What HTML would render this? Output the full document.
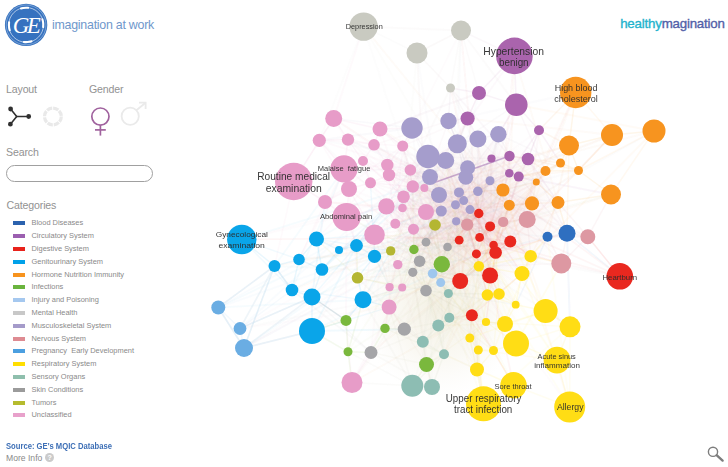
<!DOCTYPE html>
<html><head><meta charset="utf-8"><title>healthymagination</title>
<style>
html,body{margin:0;padding:0;background:#fff;}
body{width:728px;height:467px;overflow:hidden;position:relative;font-family:"Liberation Sans",sans-serif;}
.abs{position:absolute;white-space:nowrap;}
.h{color:#929292;font-size:10.6px;line-height:12px;letter-spacing:-0.15px;}
.lg{position:absolute;left:0;height:12px;line-height:12px;white-space:nowrap;}
.sw{position:absolute;left:12.6px;top:4px;width:12px;height:4px;}
.lt{position:absolute;left:31.5px;top:0;font-size:7.45px;color:#8a8a8a;}
svg text{font-family:"Liberation Sans",sans-serif;fill:#2b2b2b;}
</style></head><body>
<svg class="abs" style="left:0;top:0" width="728" height="467" viewBox="0 0 728 467">
<defs>
<radialGradient id="hz" cx="0.5" cy="0.5" r="0.5"><stop offset="0" stop-color="#e9c3c8" stop-opacity="0.42"/><stop offset="0.55" stop-color="#ecd0cf" stop-opacity="0.22"/><stop offset="1" stop-color="#f0dcd8" stop-opacity="0"/></radialGradient>
<radialGradient id="hz2" cx="0.5" cy="0.5" r="0.5"><stop offset="0" stop-color="#e9e3cc" stop-opacity="0.55"/><stop offset="0.6" stop-color="#eee9d6" stop-opacity="0.28"/><stop offset="1" stop-color="#f3eee6" stop-opacity="0"/></radialGradient>
<filter id="bl" x="-5%" y="-5%" width="110%" height="110%"><feGaussianBlur stdDeviation="0.7"/></filter>
</defs>
<ellipse cx="440" cy="305" rx="80" ry="92" fill="url(#hz2)"/>
<ellipse cx="476" cy="212" rx="92" ry="78" fill="url(#hz)"/>
<g id="edges" stroke-linecap="round" filter="url(#bl)">
<line x1="363.6" y1="26.6" x2="417.0" y2="53.0" stroke="#c9cac1" stroke-opacity="0.055" stroke-width="1.5"/>
<line x1="363.6" y1="26.6" x2="333.7" y2="118.4" stroke="#e79cc8" stroke-opacity="0.055" stroke-width="1.9"/>
<line x1="363.6" y1="26.6" x2="461.0" y2="30.5" stroke="#cebbb8" stroke-opacity="0.055" stroke-width="1.9"/>
<line x1="363.6" y1="26.6" x2="319.3" y2="140.3" stroke="#c9cac1" stroke-opacity="0.034" stroke-width="1.9"/>
<line x1="363.6" y1="26.6" x2="410.4" y2="170.0" stroke="#c9cac1" stroke-opacity="0.034" stroke-width="1.9"/>
<line x1="363.6" y1="26.6" x2="495.6" y2="252.5" stroke="#cebbb8" stroke-opacity="0.034" stroke-width="1.9"/>
<line x1="363.6" y1="26.6" x2="509.3" y2="205.2" stroke="#ec984e" stroke-opacity="0.034" stroke-width="1.9"/>
<line x1="417.0" y1="53.0" x2="450.5" y2="88.0" stroke="#cebbb8" stroke-opacity="0.085" stroke-width="1.5"/>
<line x1="417.0" y1="53.0" x2="461.0" y2="30.5" stroke="#cebbb8" stroke-opacity="0.085" stroke-width="1.5"/>
<line x1="417.0" y1="53.0" x2="403.5" y2="196.8" stroke="#cebbb8" stroke-opacity="0.034" stroke-width="1.9"/>
<line x1="417.0" y1="53.0" x2="424.4" y2="188.0" stroke="#cebbb8" stroke-opacity="0.034" stroke-width="1.9"/>
<line x1="417.0" y1="53.0" x2="439.0" y2="195.0" stroke="#b79ebf" stroke-opacity="0.034" stroke-width="1.9"/>
<line x1="417.0" y1="53.0" x2="426.0" y2="212.0" stroke="#e29dbc" stroke-opacity="0.034" stroke-width="1.9"/>
<line x1="461.0" y1="30.5" x2="450.5" y2="88.0" stroke="#cebbb8" stroke-opacity="0.055" stroke-width="1.5"/>
<line x1="461.0" y1="30.5" x2="514.4" y2="55.9" stroke="#ba79ab" stroke-opacity="0.055" stroke-width="1.5"/>
<line x1="461.0" y1="30.5" x2="389.0" y2="175.0" stroke="#e29dbc" stroke-opacity="0.034" stroke-width="1.9"/>
<line x1="461.0" y1="30.5" x2="457.3" y2="143.7" stroke="#b79ebf" stroke-opacity="0.034" stroke-width="1.9"/>
<line x1="461.0" y1="30.5" x2="479.6" y2="237.4" stroke="#e3524e" stroke-opacity="0.034" stroke-width="1.9"/>
<line x1="461.0" y1="30.5" x2="447.5" y2="247.0" stroke="#cebbb8" stroke-opacity="0.034" stroke-width="1.9"/>
<line x1="450.5" y1="88.0" x2="479.0" y2="93.0" stroke="#ba79ab" stroke-opacity="0.085" stroke-width="1.5"/>
<line x1="450.5" y1="88.0" x2="448.5" y2="121.0" stroke="#b79ebf" stroke-opacity="0.085" stroke-width="1.5"/>
<line x1="450.5" y1="88.0" x2="467.6" y2="118.5" stroke="#cebbb8" stroke-opacity="0.085" stroke-width="1.5"/>
<line x1="450.5" y1="88.0" x2="490.0" y2="180.7" stroke="#cebbb8" stroke-opacity="0.055" stroke-width="1.9"/>
<line x1="450.5" y1="88.0" x2="509.5" y2="156.0" stroke="#ba79ab" stroke-opacity="0.055" stroke-width="1.9"/>
<line x1="450.5" y1="88.0" x2="410.4" y2="170.0" stroke="#cebbb8" stroke-opacity="0.055" stroke-width="1.9"/>
<line x1="450.5" y1="88.0" x2="478.8" y2="213.5" stroke="#e3524e" stroke-opacity="0.034" stroke-width="1.9"/>
<line x1="514.4" y1="55.9" x2="516.3" y2="104.8" stroke="#ba79ab" stroke-opacity="0.085" stroke-width="1.5"/>
<line x1="514.4" y1="55.9" x2="479.0" y2="93.0" stroke="#ba79ab" stroke-opacity="0.085" stroke-width="1.5"/>
<line x1="514.4" y1="55.9" x2="509.3" y2="205.2" stroke="#ec984e" stroke-opacity="0.034" stroke-width="1.9"/>
<line x1="514.4" y1="55.9" x2="558.0" y2="202.5" stroke="#ec984e" stroke-opacity="0.034" stroke-width="1.9"/>
<line x1="514.4" y1="55.9" x2="395.3" y2="223.7" stroke="#ba79ab" stroke-opacity="0.034" stroke-width="1.9"/>
<line x1="514.4" y1="55.9" x2="495.6" y2="252.5" stroke="#e3524e" stroke-opacity="0.034" stroke-width="1.9"/>
<line x1="479.0" y1="93.0" x2="467.6" y2="118.5" stroke="#ba79ab" stroke-opacity="0.085" stroke-width="1.5"/>
<line x1="479.0" y1="93.0" x2="516.3" y2="104.8" stroke="#ba79ab" stroke-opacity="0.085" stroke-width="1.5"/>
<line x1="479.0" y1="93.0" x2="461.0" y2="30.5" stroke="#cebbb8" stroke-opacity="0.055" stroke-width="1.5"/>
<line x1="479.0" y1="93.0" x2="432.6" y2="273.6" stroke="#b3b9d5" stroke-opacity="0.034" stroke-width="1.9"/>
<line x1="479.0" y1="93.0" x2="426.0" y2="212.0" stroke="#e29dbc" stroke-opacity="0.034" stroke-width="1.9"/>
<line x1="516.3" y1="104.8" x2="539.0" y2="130.2" stroke="#ba79ab" stroke-opacity="0.085" stroke-width="1.5"/>
<line x1="516.3" y1="104.8" x2="498.4" y2="134.3" stroke="#ba79ab" stroke-opacity="0.085" stroke-width="1.5"/>
<line x1="516.3" y1="104.8" x2="478.8" y2="213.5" stroke="#ba79ab" stroke-opacity="0.034" stroke-width="1.9"/>
<line x1="516.3" y1="104.8" x2="461.0" y2="30.5" stroke="#cebbb8" stroke-opacity="0.055" stroke-width="1.9"/>
<line x1="516.3" y1="104.8" x2="455.5" y2="204.8" stroke="#ba79ab" stroke-opacity="0.034" stroke-width="1.9"/>
<line x1="516.3" y1="104.8" x2="490.1" y2="226.4" stroke="#e3524e" stroke-opacity="0.034" stroke-width="1.9"/>
<line x1="467.6" y1="118.5" x2="448.5" y2="121.0" stroke="#ba79ab" stroke-opacity="0.085" stroke-width="1.5"/>
<line x1="467.6" y1="118.5" x2="477.9" y2="139.0" stroke="#ba79ab" stroke-opacity="0.085" stroke-width="1.5"/>
<line x1="467.6" y1="118.5" x2="457.3" y2="143.7" stroke="#b79ebf" stroke-opacity="0.085" stroke-width="1.5"/>
<line x1="467.6" y1="118.5" x2="402.7" y2="146.0" stroke="#e29dbc" stroke-opacity="0.055" stroke-width="1.5"/>
<line x1="467.6" y1="118.5" x2="424.4" y2="188.0" stroke="#e29dbc" stroke-opacity="0.055" stroke-width="1.5"/>
<line x1="467.6" y1="118.5" x2="412.8" y2="272.3" stroke="#ba79ab" stroke-opacity="0.034" stroke-width="1.9"/>
<line x1="467.6" y1="118.5" x2="413.9" y2="249.5" stroke="#9baf62" stroke-opacity="0.034" stroke-width="1.9"/>
<line x1="539.0" y1="130.2" x2="528.0" y2="159.0" stroke="#ba79ab" stroke-opacity="0.085" stroke-width="1.5"/>
<line x1="539.0" y1="130.2" x2="569.0" y2="145.5" stroke="#ec984e" stroke-opacity="0.085" stroke-width="1.5"/>
<line x1="539.0" y1="130.2" x2="527.2" y2="219.5" stroke="#db9aa4" stroke-opacity="0.055" stroke-width="1.9"/>
<line x1="539.0" y1="130.2" x2="509.3" y2="173.2" stroke="#ba79ab" stroke-opacity="0.085" stroke-width="1.5"/>
<line x1="539.0" y1="130.2" x2="426.0" y2="212.0" stroke="#e29dbc" stroke-opacity="0.034" stroke-width="1.9"/>
<line x1="539.0" y1="130.2" x2="509.3" y2="205.2" stroke="#ba79ab" stroke-opacity="0.055" stroke-width="1.5"/>
<line x1="491.5" y1="158.5" x2="509.5" y2="156.0" stroke="#ba79ab" stroke-opacity="0.085" stroke-width="1.5"/>
<line x1="491.5" y1="158.5" x2="490.0" y2="180.7" stroke="#b79ebf" stroke-opacity="0.085" stroke-width="1.5"/>
<line x1="491.5" y1="158.5" x2="509.3" y2="173.2" stroke="#ba79ab" stroke-opacity="0.085" stroke-width="1.5"/>
<line x1="491.5" y1="158.5" x2="455.5" y2="204.8" stroke="#b79ebf" stroke-opacity="0.055" stroke-width="1.5"/>
<line x1="491.5" y1="158.5" x2="478.8" y2="213.5" stroke="#e3524e" stroke-opacity="0.055" stroke-width="1.5"/>
<line x1="491.5" y1="158.5" x2="426.0" y2="242.2" stroke="#ba79ab" stroke-opacity="0.055" stroke-width="1.9"/>
<line x1="491.5" y1="158.5" x2="490.1" y2="275.5" stroke="#e3524e" stroke-opacity="0.034" stroke-width="1.9"/>
<line x1="509.5" y1="156.0" x2="509.3" y2="173.2" stroke="#ba79ab" stroke-opacity="0.085" stroke-width="1.5"/>
<line x1="509.5" y1="156.0" x2="528.0" y2="159.0" stroke="#ba79ab" stroke-opacity="0.085" stroke-width="1.5"/>
<line x1="509.5" y1="156.0" x2="560.5" y2="163.0" stroke="#ec984e" stroke-opacity="0.085" stroke-width="1.5"/>
<line x1="509.5" y1="156.0" x2="558.0" y2="202.5" stroke="#ec984e" stroke-opacity="0.055" stroke-width="1.5"/>
<line x1="509.5" y1="156.0" x2="463.7" y2="200.6" stroke="#ba79ab" stroke-opacity="0.055" stroke-width="1.5"/>
<line x1="509.5" y1="156.0" x2="495.6" y2="252.5" stroke="#e3524e" stroke-opacity="0.055" stroke-width="1.9"/>
<line x1="528.0" y1="159.0" x2="518.7" y2="176.6" stroke="#ba79ab" stroke-opacity="0.085" stroke-width="1.5"/>
<line x1="528.0" y1="159.0" x2="545.5" y2="171.0" stroke="#ec984e" stroke-opacity="0.085" stroke-width="1.5"/>
<line x1="528.0" y1="159.0" x2="558.0" y2="202.5" stroke="#ba79ab" stroke-opacity="0.085" stroke-width="1.5"/>
<line x1="528.0" y1="159.0" x2="567.0" y2="233.3" stroke="#ba79ab" stroke-opacity="0.055" stroke-width="1.5"/>
<line x1="528.0" y1="159.0" x2="441.8" y2="264.2" stroke="#9baf62" stroke-opacity="0.034" stroke-width="1.9"/>
<line x1="528.0" y1="159.0" x2="426.0" y2="212.0" stroke="#ba79ab" stroke-opacity="0.034" stroke-width="1.9"/>
<line x1="509.3" y1="173.2" x2="518.7" y2="176.6" stroke="#ba79ab" stroke-opacity="0.085" stroke-width="1.5"/>
<line x1="509.3" y1="173.2" x2="502.9" y2="190.0" stroke="#ba79ab" stroke-opacity="0.085" stroke-width="1.5"/>
<line x1="509.3" y1="173.2" x2="467.2" y2="224.6" stroke="#ba79ab" stroke-opacity="0.055" stroke-width="1.5"/>
<line x1="509.3" y1="173.2" x2="455.5" y2="204.8" stroke="#ba79ab" stroke-opacity="0.055" stroke-width="1.5"/>
<line x1="509.3" y1="173.2" x2="477.9" y2="191.3" stroke="#ba79ab" stroke-opacity="0.085" stroke-width="1.5"/>
<line x1="509.3" y1="173.2" x2="412.8" y2="272.3" stroke="#b7a3a8" stroke-opacity="0.034" stroke-width="1.9"/>
<line x1="518.7" y1="176.6" x2="536.3" y2="182.0" stroke="#ba79ab" stroke-opacity="0.085" stroke-width="1.5"/>
<line x1="518.7" y1="176.6" x2="545.5" y2="171.0" stroke="#ec984e" stroke-opacity="0.085" stroke-width="1.5"/>
<line x1="518.7" y1="176.6" x2="503.2" y2="221.9" stroke="#ba79ab" stroke-opacity="0.085" stroke-width="1.5"/>
<line x1="518.7" y1="176.6" x2="495.6" y2="252.5" stroke="#e3524e" stroke-opacity="0.055" stroke-width="1.5"/>
<line x1="518.7" y1="176.6" x2="428.0" y2="156.5" stroke="#b79ebf" stroke-opacity="0.055" stroke-width="1.9"/>
<line x1="412.0" y1="128.0" x2="402.7" y2="146.0" stroke="#b79ebf" stroke-opacity="0.085" stroke-width="1.5"/>
<line x1="412.0" y1="128.0" x2="380.0" y2="129.0" stroke="#e79cc8" stroke-opacity="0.085" stroke-width="1.5"/>
<line x1="412.0" y1="128.0" x2="428.0" y2="156.5" stroke="#b79ebf" stroke-opacity="0.085" stroke-width="1.5"/>
<line x1="412.0" y1="128.0" x2="386.4" y2="206.4" stroke="#e79cc8" stroke-opacity="0.055" stroke-width="1.5"/>
<line x1="412.0" y1="128.0" x2="319.3" y2="140.3" stroke="#a59dcc" stroke-opacity="0.055" stroke-width="1.9"/>
<line x1="412.0" y1="128.0" x2="426.0" y2="242.2" stroke="#b79ebf" stroke-opacity="0.034" stroke-width="1.9"/>
<line x1="412.0" y1="128.0" x2="439.0" y2="195.0" stroke="#b79ebf" stroke-opacity="0.055" stroke-width="1.5"/>
<line x1="448.5" y1="121.0" x2="457.3" y2="143.7" stroke="#b79ebf" stroke-opacity="0.085" stroke-width="1.5"/>
<line x1="448.5" y1="121.0" x2="467.6" y2="167.7" stroke="#b79ebf" stroke-opacity="0.085" stroke-width="1.5"/>
<line x1="448.5" y1="121.0" x2="490.0" y2="180.7" stroke="#b79ebf" stroke-opacity="0.055" stroke-width="1.5"/>
<line x1="448.5" y1="121.0" x2="424.4" y2="188.0" stroke="#e29dbc" stroke-opacity="0.055" stroke-width="1.5"/>
<line x1="448.5" y1="121.0" x2="477.9" y2="191.3" stroke="#b79ebf" stroke-opacity="0.055" stroke-width="1.5"/>
<line x1="457.3" y1="143.7" x2="445.7" y2="160.5" stroke="#b79ebf" stroke-opacity="0.085" stroke-width="1.5"/>
<line x1="457.3" y1="143.7" x2="477.9" y2="139.0" stroke="#b79ebf" stroke-opacity="0.085" stroke-width="1.5"/>
<line x1="457.3" y1="143.7" x2="465.8" y2="177.3" stroke="#b79ebf" stroke-opacity="0.085" stroke-width="1.5"/>
<line x1="457.3" y1="143.7" x2="516.3" y2="104.8" stroke="#b79ebf" stroke-opacity="0.055" stroke-width="1.5"/>
<line x1="457.3" y1="143.7" x2="490.1" y2="275.5" stroke="#b79ebf" stroke-opacity="0.034" stroke-width="1.9"/>
<line x1="457.3" y1="143.7" x2="410.4" y2="170.0" stroke="#e29dbc" stroke-opacity="0.085" stroke-width="1.5"/>
<line x1="428.0" y1="156.5" x2="445.7" y2="160.5" stroke="#b79ebf" stroke-opacity="0.085" stroke-width="1.5"/>
<line x1="428.0" y1="156.5" x2="430.0" y2="177.0" stroke="#b79ebf" stroke-opacity="0.085" stroke-width="1.5"/>
<line x1="428.0" y1="156.5" x2="410.4" y2="170.0" stroke="#b79ebf" stroke-opacity="0.085" stroke-width="1.5"/>
<line x1="428.0" y1="156.5" x2="412.8" y2="186.5" stroke="#b79ebf" stroke-opacity="0.085" stroke-width="1.5"/>
<line x1="428.0" y1="156.5" x2="491.5" y2="158.5" stroke="#b79ebf" stroke-opacity="0.055" stroke-width="1.5"/>
<line x1="428.0" y1="156.5" x2="478.8" y2="213.5" stroke="#e3524e" stroke-opacity="0.055" stroke-width="1.5"/>
<line x1="428.0" y1="156.5" x2="403.5" y2="196.8" stroke="#e29dbc" stroke-opacity="0.085" stroke-width="1.5"/>
<line x1="445.7" y1="160.5" x2="430.0" y2="177.0" stroke="#b79ebf" stroke-opacity="0.085" stroke-width="1.5"/>
<line x1="445.7" y1="160.5" x2="467.2" y2="224.6" stroke="#b79ebf" stroke-opacity="0.055" stroke-width="1.5"/>
<line x1="445.7" y1="160.5" x2="456.2" y2="221.3" stroke="#b79ebf" stroke-opacity="0.055" stroke-width="1.5"/>
<line x1="445.7" y1="160.5" x2="424.4" y2="188.0" stroke="#b79ebf" stroke-opacity="0.085" stroke-width="1.5"/>
<line x1="445.7" y1="160.5" x2="476.4" y2="253.9" stroke="#e3524e" stroke-opacity="0.055" stroke-width="1.9"/>
<line x1="477.9" y1="139.0" x2="498.4" y2="134.3" stroke="#b79ebf" stroke-opacity="0.085" stroke-width="1.5"/>
<line x1="477.9" y1="139.0" x2="477.9" y2="191.3" stroke="#b79ebf" stroke-opacity="0.085" stroke-width="1.5"/>
<line x1="477.9" y1="139.0" x2="518.7" y2="176.6" stroke="#ba79ab" stroke-opacity="0.055" stroke-width="1.5"/>
<line x1="477.9" y1="139.0" x2="490.1" y2="275.5" stroke="#e3524e" stroke-opacity="0.034" stroke-width="1.9"/>
<line x1="477.9" y1="139.0" x2="412.8" y2="272.3" stroke="#b7a3a8" stroke-opacity="0.034" stroke-width="1.9"/>
<line x1="498.4" y1="134.3" x2="509.5" y2="156.0" stroke="#b79ebf" stroke-opacity="0.085" stroke-width="1.5"/>
<line x1="498.4" y1="134.3" x2="491.5" y2="158.5" stroke="#b79ebf" stroke-opacity="0.085" stroke-width="1.5"/>
<line x1="498.4" y1="134.3" x2="490.0" y2="180.7" stroke="#b79ebf" stroke-opacity="0.085" stroke-width="1.5"/>
<line x1="498.4" y1="134.3" x2="478.8" y2="213.5" stroke="#b79ebf" stroke-opacity="0.055" stroke-width="1.5"/>
<line x1="498.4" y1="134.3" x2="440.7" y2="282.6" stroke="#b3b9d5" stroke-opacity="0.034" stroke-width="1.9"/>
<line x1="498.4" y1="134.3" x2="490.1" y2="275.5" stroke="#b79ebf" stroke-opacity="0.034" stroke-width="1.9"/>
<line x1="430.0" y1="177.0" x2="424.4" y2="188.0" stroke="#b79ebf" stroke-opacity="0.085" stroke-width="1.5"/>
<line x1="430.0" y1="177.0" x2="412.8" y2="186.5" stroke="#e29dbc" stroke-opacity="0.085" stroke-width="1.5"/>
<line x1="430.0" y1="177.0" x2="439.0" y2="195.0" stroke="#b79ebf" stroke-opacity="0.085" stroke-width="1.5"/>
<line x1="430.0" y1="177.0" x2="370.5" y2="182.8" stroke="#e29dbc" stroke-opacity="0.055" stroke-width="1.5"/>
<line x1="430.0" y1="177.0" x2="380.0" y2="129.0" stroke="#e29dbc" stroke-opacity="0.055" stroke-width="1.5"/>
<line x1="430.0" y1="177.0" x2="495.6" y2="252.5" stroke="#b79ebf" stroke-opacity="0.055" stroke-width="1.9"/>
<line x1="439.0" y1="195.0" x2="441.3" y2="211.0" stroke="#b79ebf" stroke-opacity="0.085" stroke-width="1.5"/>
<line x1="439.0" y1="195.0" x2="424.4" y2="188.0" stroke="#b79ebf" stroke-opacity="0.085" stroke-width="1.5"/>
<line x1="439.0" y1="195.0" x2="455.5" y2="204.8" stroke="#b79ebf" stroke-opacity="0.085" stroke-width="1.5"/>
<line x1="439.0" y1="195.0" x2="389.0" y2="175.0" stroke="#e29dbc" stroke-opacity="0.085" stroke-width="1.5"/>
<line x1="439.0" y1="195.0" x2="477.9" y2="139.0" stroke="#b79ebf" stroke-opacity="0.055" stroke-width="1.5"/>
<line x1="439.0" y1="195.0" x2="459.0" y2="192.4" stroke="#b79ebf" stroke-opacity="0.085" stroke-width="1.5"/>
<line x1="441.3" y1="211.0" x2="426.0" y2="212.0" stroke="#b79ebf" stroke-opacity="0.085" stroke-width="1.5"/>
<line x1="441.3" y1="211.0" x2="435.0" y2="225.0" stroke="#c0ae5b" stroke-opacity="0.085" stroke-width="1.5"/>
<line x1="441.3" y1="211.0" x2="455.5" y2="204.8" stroke="#b79ebf" stroke-opacity="0.085" stroke-width="1.5"/>
<line x1="441.3" y1="211.0" x2="503.2" y2="221.9" stroke="#b79ebf" stroke-opacity="0.055" stroke-width="1.5"/>
<line x1="441.3" y1="211.0" x2="403.5" y2="196.8" stroke="#e29dbc" stroke-opacity="0.085" stroke-width="1.5"/>
<line x1="441.3" y1="211.0" x2="510.3" y2="241.5" stroke="#e3524e" stroke-opacity="0.055" stroke-width="1.5"/>
<line x1="441.3" y1="211.0" x2="493.6" y2="245.0" stroke="#b79ebf" stroke-opacity="0.055" stroke-width="1.5"/>
<line x1="467.6" y1="167.7" x2="465.8" y2="177.3" stroke="#b79ebf" stroke-opacity="0.085" stroke-width="1.5"/>
<line x1="467.6" y1="167.7" x2="445.7" y2="160.5" stroke="#b79ebf" stroke-opacity="0.085" stroke-width="1.5"/>
<line x1="467.6" y1="167.7" x2="491.5" y2="158.5" stroke="#ba79ab" stroke-opacity="0.085" stroke-width="1.5"/>
<line x1="467.6" y1="167.7" x2="470.0" y2="209.6" stroke="#b79ebf" stroke-opacity="0.085" stroke-width="1.5"/>
<line x1="467.6" y1="167.7" x2="456.2" y2="221.3" stroke="#b79ebf" stroke-opacity="0.085" stroke-width="1.5"/>
<line x1="467.6" y1="167.7" x2="441.8" y2="264.2" stroke="#9baf62" stroke-opacity="0.055" stroke-width="1.9"/>
<line x1="465.8" y1="177.3" x2="459.0" y2="192.4" stroke="#b79ebf" stroke-opacity="0.085" stroke-width="1.5"/>
<line x1="465.8" y1="177.3" x2="477.9" y2="191.3" stroke="#b79ebf" stroke-opacity="0.085" stroke-width="1.5"/>
<line x1="465.8" y1="177.3" x2="498.4" y2="134.3" stroke="#b79ebf" stroke-opacity="0.085" stroke-width="1.5"/>
<line x1="465.8" y1="177.3" x2="455.5" y2="204.8" stroke="#b79ebf" stroke-opacity="0.085" stroke-width="1.5"/>
<line x1="465.8" y1="177.3" x2="463.7" y2="200.6" stroke="#b79ebf" stroke-opacity="0.085" stroke-width="1.5"/>
<line x1="465.8" y1="177.3" x2="493.6" y2="245.0" stroke="#e3524e" stroke-opacity="0.055" stroke-width="1.5"/>
<line x1="490.0" y1="180.7" x2="502.9" y2="190.0" stroke="#ec984e" stroke-opacity="0.085" stroke-width="1.5"/>
<line x1="490.0" y1="180.7" x2="477.9" y2="191.3" stroke="#b79ebf" stroke-opacity="0.085" stroke-width="1.5"/>
<line x1="490.0" y1="180.7" x2="509.3" y2="173.2" stroke="#ba79ab" stroke-opacity="0.085" stroke-width="1.5"/>
<line x1="490.0" y1="180.7" x2="456.2" y2="221.3" stroke="#b79ebf" stroke-opacity="0.085" stroke-width="1.5"/>
<line x1="490.0" y1="180.7" x2="467.6" y2="118.5" stroke="#b79ebf" stroke-opacity="0.055" stroke-width="1.5"/>
<line x1="490.0" y1="180.7" x2="441.8" y2="264.2" stroke="#9baf62" stroke-opacity="0.055" stroke-width="1.9"/>
<line x1="490.0" y1="180.7" x2="463.7" y2="200.6" stroke="#b79ebf" stroke-opacity="0.085" stroke-width="1.5"/>
<line x1="477.9" y1="191.3" x2="463.7" y2="200.6" stroke="#b79ebf" stroke-opacity="0.085" stroke-width="1.5"/>
<line x1="477.9" y1="191.3" x2="479.6" y2="237.4" stroke="#e3524e" stroke-opacity="0.085" stroke-width="1.5"/>
<line x1="477.9" y1="191.3" x2="502.9" y2="190.0" stroke="#b79ebf" stroke-opacity="0.085" stroke-width="1.5"/>
<line x1="477.9" y1="191.3" x2="460.2" y2="281.0" stroke="#e3524e" stroke-opacity="0.055" stroke-width="1.9"/>
<line x1="477.9" y1="191.3" x2="441.3" y2="211.0" stroke="#b79ebf" stroke-opacity="0.085" stroke-width="1.5"/>
<line x1="459.0" y1="192.4" x2="463.7" y2="200.6" stroke="#b79ebf" stroke-opacity="0.085" stroke-width="1.5"/>
<line x1="459.0" y1="192.4" x2="455.5" y2="204.8" stroke="#b79ebf" stroke-opacity="0.085" stroke-width="1.5"/>
<line x1="459.0" y1="192.4" x2="467.6" y2="167.7" stroke="#b79ebf" stroke-opacity="0.085" stroke-width="1.5"/>
<line x1="459.0" y1="192.4" x2="424.4" y2="188.0" stroke="#b79ebf" stroke-opacity="0.085" stroke-width="1.5"/>
<line x1="459.0" y1="192.4" x2="426.0" y2="212.0" stroke="#b79ebf" stroke-opacity="0.085" stroke-width="1.5"/>
<line x1="459.0" y1="192.4" x2="476.4" y2="253.9" stroke="#e3524e" stroke-opacity="0.055" stroke-width="1.5"/>
<line x1="463.7" y1="200.6" x2="455.5" y2="204.8" stroke="#b79ebf" stroke-opacity="0.085" stroke-width="1.5"/>
<line x1="463.7" y1="200.6" x2="470.0" y2="209.6" stroke="#b79ebf" stroke-opacity="0.085" stroke-width="1.5"/>
<line x1="463.7" y1="200.6" x2="412.8" y2="186.5" stroke="#e29dbc" stroke-opacity="0.085" stroke-width="1.5"/>
<line x1="463.7" y1="200.6" x2="386.4" y2="206.4" stroke="#b79ebf" stroke-opacity="0.055" stroke-width="1.5"/>
<line x1="463.7" y1="200.6" x2="447.5" y2="247.0" stroke="#b7a3a8" stroke-opacity="0.085" stroke-width="1.5"/>
<line x1="455.5" y1="204.8" x2="470.0" y2="209.6" stroke="#b79ebf" stroke-opacity="0.085" stroke-width="1.5"/>
<line x1="455.5" y1="204.8" x2="428.0" y2="156.5" stroke="#b79ebf" stroke-opacity="0.055" stroke-width="1.5"/>
<line x1="455.5" y1="204.8" x2="476.4" y2="253.9" stroke="#b79ebf" stroke-opacity="0.085" stroke-width="1.5"/>
<line x1="455.5" y1="204.8" x2="441.8" y2="264.2" stroke="#b79ebf" stroke-opacity="0.055" stroke-width="1.5"/>
<line x1="455.5" y1="204.8" x2="426.0" y2="212.0" stroke="#e29dbc" stroke-opacity="0.085" stroke-width="1.5"/>
<line x1="470.0" y1="209.6" x2="478.8" y2="213.5" stroke="#e3524e" stroke-opacity="0.085" stroke-width="1.5"/>
<line x1="470.0" y1="209.6" x2="467.2" y2="224.6" stroke="#b79ebf" stroke-opacity="0.085" stroke-width="1.5"/>
<line x1="470.0" y1="209.6" x2="447.5" y2="247.0" stroke="#b7a3a8" stroke-opacity="0.085" stroke-width="1.5"/>
<line x1="470.0" y1="209.6" x2="459.2" y2="240.2" stroke="#e3524e" stroke-opacity="0.085" stroke-width="1.5"/>
<line x1="470.0" y1="209.6" x2="441.8" y2="264.2" stroke="#9baf62" stroke-opacity="0.055" stroke-width="1.5"/>
<line x1="456.2" y1="221.3" x2="467.2" y2="224.6" stroke="#b79ebf" stroke-opacity="0.085" stroke-width="1.5"/>
<line x1="456.2" y1="221.3" x2="455.5" y2="204.8" stroke="#b79ebf" stroke-opacity="0.085" stroke-width="1.5"/>
<line x1="456.2" y1="221.3" x2="470.0" y2="209.6" stroke="#b79ebf" stroke-opacity="0.085" stroke-width="1.5"/>
<line x1="456.2" y1="221.3" x2="413.9" y2="249.5" stroke="#b79ebf" stroke-opacity="0.085" stroke-width="1.5"/>
<line x1="456.2" y1="221.3" x2="435.0" y2="225.0" stroke="#c0ae5b" stroke-opacity="0.085" stroke-width="1.5"/>
<line x1="456.2" y1="221.3" x2="490.1" y2="275.5" stroke="#bdafa6" stroke-opacity="0.055" stroke-width="1.5"/>
<line x1="456.2" y1="221.3" x2="460.2" y2="281.0" stroke="#d88061" stroke-opacity="0.055" stroke-width="1.5"/>
<line x1="333.7" y1="118.4" x2="348.0" y2="139.6" stroke="#e79cc8" stroke-opacity="0.085" stroke-width="1.5"/>
<line x1="333.7" y1="118.4" x2="319.3" y2="140.3" stroke="#e79cc8" stroke-opacity="0.085" stroke-width="1.5"/>
<line x1="333.7" y1="118.4" x2="380.0" y2="129.0" stroke="#e79cc8" stroke-opacity="0.085" stroke-width="1.5"/>
<line x1="333.7" y1="118.4" x2="395.3" y2="223.7" stroke="#e79cc8" stroke-opacity="0.034" stroke-width="1.9"/>
<line x1="333.7" y1="118.4" x2="412.0" y2="128.0" stroke="#a59dcc" stroke-opacity="0.055" stroke-width="1.5"/>
<line x1="333.7" y1="118.4" x2="478.8" y2="213.5" stroke="#e3524e" stroke-opacity="0.034" stroke-width="1.9"/>
<line x1="333.7" y1="118.4" x2="510.3" y2="241.5" stroke="#e29dbc" stroke-opacity="0.034" stroke-width="1.9"/>
<line x1="319.3" y1="140.3" x2="348.0" y2="139.6" stroke="#e79cc8" stroke-opacity="0.085" stroke-width="1.5"/>
<line x1="319.3" y1="140.3" x2="344.0" y2="168.8" stroke="#e79cc8" stroke-opacity="0.085" stroke-width="1.5"/>
<line x1="319.3" y1="140.3" x2="349.0" y2="189.0" stroke="#e79cc8" stroke-opacity="0.055" stroke-width="1.5"/>
<line x1="319.3" y1="140.3" x2="410.4" y2="170.0" stroke="#e79cc8" stroke-opacity="0.055" stroke-width="1.9"/>
<line x1="319.3" y1="140.3" x2="426.0" y2="242.2" stroke="#a5a5a8" stroke-opacity="0.034" stroke-width="1.9"/>
<line x1="319.3" y1="140.3" x2="445.7" y2="160.5" stroke="#a59dcc" stroke-opacity="0.034" stroke-width="1.9"/>
<line x1="348.0" y1="139.6" x2="363.0" y2="161.0" stroke="#e79cc8" stroke-opacity="0.085" stroke-width="1.5"/>
<line x1="348.0" y1="139.6" x2="374.0" y2="144.8" stroke="#e79cc8" stroke-opacity="0.085" stroke-width="1.5"/>
<line x1="348.0" y1="139.6" x2="426.0" y2="212.0" stroke="#e79cc8" stroke-opacity="0.055" stroke-width="1.9"/>
<line x1="348.0" y1="139.6" x2="430.0" y2="177.0" stroke="#a59dcc" stroke-opacity="0.055" stroke-width="1.9"/>
<line x1="348.0" y1="139.6" x2="493.6" y2="245.0" stroke="#e29dbc" stroke-opacity="0.034" stroke-width="1.9"/>
<line x1="348.0" y1="139.6" x2="477.9" y2="191.3" stroke="#e29dbc" stroke-opacity="0.034" stroke-width="1.9"/>
<line x1="380.0" y1="129.0" x2="374.0" y2="144.8" stroke="#e79cc8" stroke-opacity="0.085" stroke-width="1.5"/>
<line x1="380.0" y1="129.0" x2="402.7" y2="146.0" stroke="#e79cc8" stroke-opacity="0.085" stroke-width="1.5"/>
<line x1="380.0" y1="129.0" x2="459.0" y2="192.4" stroke="#e29dbc" stroke-opacity="0.055" stroke-width="1.9"/>
<line x1="380.0" y1="129.0" x2="479.0" y2="93.0" stroke="#ba79ab" stroke-opacity="0.055" stroke-width="1.9"/>
<line x1="380.0" y1="129.0" x2="509.3" y2="205.2" stroke="#ec984e" stroke-opacity="0.034" stroke-width="1.9"/>
<line x1="380.0" y1="129.0" x2="413.5" y2="229.2" stroke="#e79cc8" stroke-opacity="0.055" stroke-width="1.9"/>
<line x1="374.0" y1="144.8" x2="363.0" y2="161.0" stroke="#e79cc8" stroke-opacity="0.085" stroke-width="1.5"/>
<line x1="374.0" y1="144.8" x2="387.3" y2="165.0" stroke="#e79cc8" stroke-opacity="0.085" stroke-width="1.5"/>
<line x1="374.0" y1="144.8" x2="448.5" y2="121.0" stroke="#e29dbc" stroke-opacity="0.055" stroke-width="1.5"/>
<line x1="374.0" y1="144.8" x2="459.0" y2="192.4" stroke="#b79ebf" stroke-opacity="0.055" stroke-width="1.9"/>
<line x1="374.0" y1="144.8" x2="503.2" y2="221.9" stroke="#e29dbc" stroke-opacity="0.034" stroke-width="1.9"/>
<line x1="374.0" y1="144.8" x2="440.7" y2="282.6" stroke="#e29dbc" stroke-opacity="0.034" stroke-width="1.9"/>
<line x1="402.7" y1="146.0" x2="387.3" y2="165.0" stroke="#e79cc8" stroke-opacity="0.085" stroke-width="1.5"/>
<line x1="402.7" y1="146.0" x2="410.4" y2="170.0" stroke="#e29dbc" stroke-opacity="0.085" stroke-width="1.5"/>
<line x1="402.7" y1="146.0" x2="413.5" y2="229.2" stroke="#e29dbc" stroke-opacity="0.055" stroke-width="1.5"/>
<line x1="402.7" y1="146.0" x2="319.3" y2="140.3" stroke="#e79cc8" stroke-opacity="0.055" stroke-width="1.5"/>
<line x1="402.7" y1="146.0" x2="395.3" y2="223.7" stroke="#e79cc8" stroke-opacity="0.055" stroke-width="1.5"/>
<line x1="402.7" y1="146.0" x2="439.0" y2="195.0" stroke="#e29dbc" stroke-opacity="0.055" stroke-width="1.5"/>
<line x1="293.7" y1="181.5" x2="325.0" y2="202.0" stroke="#e79cc8" stroke-opacity="0.085" stroke-width="1.5"/>
<line x1="293.7" y1="181.5" x2="319.3" y2="140.3" stroke="#e79cc8" stroke-opacity="0.085" stroke-width="1.5"/>
<line x1="293.7" y1="181.5" x2="344.0" y2="168.8" stroke="#e79cc8" stroke-opacity="0.085" stroke-width="1.5"/>
<line x1="293.7" y1="181.5" x2="333.7" y2="118.4" stroke="#e79cc8" stroke-opacity="0.055" stroke-width="1.5"/>
<line x1="293.7" y1="181.5" x2="274.5" y2="266.0" stroke="#e79cc8" stroke-opacity="0.055" stroke-width="1.5"/>
<line x1="293.7" y1="181.5" x2="445.7" y2="160.5" stroke="#a59dcc" stroke-opacity="0.034" stroke-width="1.9"/>
<line x1="293.7" y1="181.5" x2="419.6" y2="261.2" stroke="#e79cc8" stroke-opacity="0.034" stroke-width="1.9"/>
<line x1="344.0" y1="168.8" x2="363.0" y2="161.0" stroke="#e79cc8" stroke-opacity="0.085" stroke-width="1.5"/>
<line x1="344.0" y1="168.8" x2="349.0" y2="189.0" stroke="#e79cc8" stroke-opacity="0.085" stroke-width="1.5"/>
<line x1="344.0" y1="168.8" x2="348.0" y2="139.6" stroke="#e79cc8" stroke-opacity="0.085" stroke-width="1.5"/>
<line x1="344.0" y1="168.8" x2="445.7" y2="160.5" stroke="#e79cc8" stroke-opacity="0.055" stroke-width="1.9"/>
<line x1="344.0" y1="168.8" x2="410.4" y2="170.0" stroke="#e79cc8" stroke-opacity="0.055" stroke-width="1.5"/>
<line x1="344.0" y1="168.8" x2="402.5" y2="208.0" stroke="#e79cc8" stroke-opacity="0.055" stroke-width="1.5"/>
<line x1="363.0" y1="161.0" x2="370.5" y2="182.8" stroke="#e79cc8" stroke-opacity="0.085" stroke-width="1.5"/>
<line x1="363.0" y1="161.0" x2="426.0" y2="212.0" stroke="#e79cc8" stroke-opacity="0.055" stroke-width="1.5"/>
<line x1="363.0" y1="161.0" x2="424.4" y2="188.0" stroke="#e79cc8" stroke-opacity="0.055" stroke-width="1.5"/>
<line x1="363.0" y1="161.0" x2="502.9" y2="190.0" stroke="#e29dbc" stroke-opacity="0.034" stroke-width="1.9"/>
<line x1="363.0" y1="161.0" x2="490.1" y2="226.4" stroke="#e29dbc" stroke-opacity="0.034" stroke-width="1.9"/>
<line x1="349.0" y1="189.0" x2="370.5" y2="182.8" stroke="#e79cc8" stroke-opacity="0.085" stroke-width="1.5"/>
<line x1="349.0" y1="189.0" x2="325.0" y2="202.0" stroke="#e79cc8" stroke-opacity="0.085" stroke-width="1.5"/>
<line x1="349.0" y1="189.0" x2="357.5" y2="277.8" stroke="#e79cc8" stroke-opacity="0.055" stroke-width="1.5"/>
<line x1="349.0" y1="189.0" x2="374.5" y2="234.7" stroke="#e79cc8" stroke-opacity="0.085" stroke-width="1.5"/>
<line x1="349.0" y1="189.0" x2="479.6" y2="237.4" stroke="#e29dbc" stroke-opacity="0.034" stroke-width="1.9"/>
<line x1="349.0" y1="189.0" x2="460.2" y2="281.0" stroke="#e3524e" stroke-opacity="0.034" stroke-width="1.9"/>
<line x1="325.0" y1="202.0" x2="346.6" y2="217.0" stroke="#e79cc8" stroke-opacity="0.085" stroke-width="1.5"/>
<line x1="325.0" y1="202.0" x2="402.7" y2="146.0" stroke="#e79cc8" stroke-opacity="0.055" stroke-width="1.9"/>
<line x1="325.0" y1="202.0" x2="312.0" y2="297.0" stroke="#0aa5e9" stroke-opacity="0.055" stroke-width="1.9"/>
<line x1="325.0" y1="202.0" x2="426.0" y2="212.0" stroke="#e79cc8" stroke-opacity="0.055" stroke-width="1.9"/>
<line x1="325.0" y1="202.0" x2="478.8" y2="213.5" stroke="#e3524e" stroke-opacity="0.034" stroke-width="1.9"/>
<line x1="346.6" y1="217.0" x2="349.0" y2="189.0" stroke="#e79cc8" stroke-opacity="0.085" stroke-width="1.5"/>
<line x1="346.6" y1="217.0" x2="356.5" y2="245.5" stroke="#e79cc8" stroke-opacity="0.085" stroke-width="1.5"/>
<line x1="346.6" y1="217.0" x2="413.5" y2="229.2" stroke="#e79cc8" stroke-opacity="0.055" stroke-width="1.5"/>
<line x1="346.6" y1="217.0" x2="386.4" y2="206.4" stroke="#e79cc8" stroke-opacity="0.085" stroke-width="1.5"/>
<line x1="346.6" y1="217.0" x2="439.0" y2="195.0" stroke="#a59dcc" stroke-opacity="0.055" stroke-width="1.9"/>
<line x1="346.6" y1="217.0" x2="413.9" y2="249.5" stroke="#7ab83d" stroke-opacity="0.055" stroke-width="1.5"/>
<line x1="387.3" y1="165.0" x2="389.0" y2="175.0" stroke="#e79cc8" stroke-opacity="0.085" stroke-width="1.5"/>
<line x1="387.3" y1="165.0" x2="410.4" y2="170.0" stroke="#e79cc8" stroke-opacity="0.085" stroke-width="1.5"/>
<line x1="387.3" y1="165.0" x2="413.5" y2="229.2" stroke="#e29dbc" stroke-opacity="0.055" stroke-width="1.5"/>
<line x1="387.3" y1="165.0" x2="395.3" y2="223.7" stroke="#e79cc8" stroke-opacity="0.055" stroke-width="1.5"/>
<line x1="387.3" y1="165.0" x2="510.3" y2="241.5" stroke="#e3524e" stroke-opacity="0.034" stroke-width="1.9"/>
<line x1="387.3" y1="165.0" x2="459.0" y2="192.4" stroke="#b79ebf" stroke-opacity="0.055" stroke-width="1.5"/>
<line x1="389.0" y1="175.0" x2="370.5" y2="182.8" stroke="#e79cc8" stroke-opacity="0.085" stroke-width="1.5"/>
<line x1="389.0" y1="175.0" x2="410.4" y2="170.0" stroke="#e79cc8" stroke-opacity="0.085" stroke-width="1.5"/>
<line x1="389.0" y1="175.0" x2="467.6" y2="167.7" stroke="#b79ebf" stroke-opacity="0.055" stroke-width="1.5"/>
<line x1="389.0" y1="175.0" x2="430.0" y2="177.0" stroke="#b79ebf" stroke-opacity="0.085" stroke-width="1.5"/>
<line x1="389.0" y1="175.0" x2="435.0" y2="225.0" stroke="#e29dbc" stroke-opacity="0.055" stroke-width="1.5"/>
<line x1="410.4" y1="170.0" x2="412.8" y2="186.5" stroke="#e29dbc" stroke-opacity="0.085" stroke-width="1.5"/>
<line x1="410.4" y1="170.0" x2="430.0" y2="177.0" stroke="#e29dbc" stroke-opacity="0.085" stroke-width="1.5"/>
<line x1="410.4" y1="170.0" x2="463.7" y2="200.6" stroke="#b79ebf" stroke-opacity="0.055" stroke-width="1.5"/>
<line x1="410.4" y1="170.0" x2="386.4" y2="206.4" stroke="#e79cc8" stroke-opacity="0.085" stroke-width="1.5"/>
<line x1="410.4" y1="170.0" x2="419.6" y2="261.2" stroke="#b7a3a8" stroke-opacity="0.055" stroke-width="1.9"/>
<line x1="370.5" y1="182.8" x2="426.0" y2="242.2" stroke="#e79cc8" stroke-opacity="0.055" stroke-width="1.5"/>
<line x1="370.5" y1="182.8" x2="316.5" y2="239.0" stroke="#e79cc8" stroke-opacity="0.055" stroke-width="1.5"/>
<line x1="370.5" y1="182.8" x2="470.0" y2="209.6" stroke="#e29dbc" stroke-opacity="0.055" stroke-width="1.9"/>
<line x1="370.5" y1="182.8" x2="424.4" y2="188.0" stroke="#e79cc8" stroke-opacity="0.085" stroke-width="1.5"/>
<line x1="412.8" y1="186.5" x2="424.4" y2="188.0" stroke="#e29dbc" stroke-opacity="0.085" stroke-width="1.5"/>
<line x1="412.8" y1="186.5" x2="403.5" y2="196.8" stroke="#e29dbc" stroke-opacity="0.085" stroke-width="1.5"/>
<line x1="412.8" y1="186.5" x2="456.2" y2="221.3" stroke="#e29dbc" stroke-opacity="0.055" stroke-width="1.5"/>
<line x1="412.8" y1="186.5" x2="402.7" y2="146.0" stroke="#e29dbc" stroke-opacity="0.085" stroke-width="1.5"/>
<line x1="412.8" y1="186.5" x2="503.2" y2="221.9" stroke="#db9aa4" stroke-opacity="0.055" stroke-width="1.9"/>
<line x1="412.8" y1="186.5" x2="490.1" y2="275.5" stroke="#e29dbc" stroke-opacity="0.034" stroke-width="1.9"/>
<line x1="424.4" y1="188.0" x2="459.2" y2="240.2" stroke="#e3524e" stroke-opacity="0.055" stroke-width="1.5"/>
<line x1="424.4" y1="188.0" x2="410.4" y2="170.0" stroke="#e29dbc" stroke-opacity="0.085" stroke-width="1.5"/>
<line x1="424.4" y1="188.0" x2="478.8" y2="213.5" stroke="#e29dbc" stroke-opacity="0.055" stroke-width="1.5"/>
<line x1="424.4" y1="188.0" x2="447.5" y2="247.0" stroke="#e29dbc" stroke-opacity="0.055" stroke-width="1.5"/>
<line x1="403.5" y1="196.8" x2="402.5" y2="208.0" stroke="#e29dbc" stroke-opacity="0.085" stroke-width="1.5"/>
<line x1="403.5" y1="196.8" x2="386.4" y2="206.4" stroke="#e79cc8" stroke-opacity="0.085" stroke-width="1.5"/>
<line x1="403.5" y1="196.8" x2="435.0" y2="225.0" stroke="#e29dbc" stroke-opacity="0.085" stroke-width="1.5"/>
<line x1="403.5" y1="196.8" x2="363.0" y2="161.0" stroke="#e79cc8" stroke-opacity="0.085" stroke-width="1.5"/>
<line x1="403.5" y1="196.8" x2="460.2" y2="281.0" stroke="#e3524e" stroke-opacity="0.055" stroke-width="1.9"/>
<line x1="403.5" y1="196.8" x2="413.5" y2="229.2" stroke="#e29dbc" stroke-opacity="0.085" stroke-width="1.5"/>
<line x1="386.4" y1="206.4" x2="402.5" y2="208.0" stroke="#e79cc8" stroke-opacity="0.085" stroke-width="1.5"/>
<line x1="386.4" y1="206.4" x2="395.3" y2="223.7" stroke="#e79cc8" stroke-opacity="0.085" stroke-width="1.5"/>
<line x1="386.4" y1="206.4" x2="419.6" y2="261.2" stroke="#e29dbc" stroke-opacity="0.055" stroke-width="1.5"/>
<line x1="386.4" y1="206.4" x2="356.5" y2="245.5" stroke="#0aa5e9" stroke-opacity="0.085" stroke-width="1.5"/>
<line x1="386.4" y1="206.4" x2="476.4" y2="253.9" stroke="#e29dbc" stroke-opacity="0.055" stroke-width="1.9"/>
<line x1="386.4" y1="206.4" x2="413.5" y2="229.2" stroke="#e79cc8" stroke-opacity="0.085" stroke-width="1.5"/>
<line x1="402.5" y1="208.0" x2="395.3" y2="223.7" stroke="#e79cc8" stroke-opacity="0.085" stroke-width="1.5"/>
<line x1="402.5" y1="208.0" x2="426.0" y2="242.2" stroke="#b7a3a8" stroke-opacity="0.085" stroke-width="1.5"/>
<line x1="402.5" y1="208.0" x2="441.3" y2="211.0" stroke="#e29dbc" stroke-opacity="0.085" stroke-width="1.5"/>
<line x1="402.5" y1="208.0" x2="460.2" y2="281.0" stroke="#d7aea5" stroke-opacity="0.055" stroke-width="1.9"/>
<line x1="426.0" y1="212.0" x2="435.0" y2="225.0" stroke="#e29dbc" stroke-opacity="0.085" stroke-width="1.5"/>
<line x1="426.0" y1="212.0" x2="413.5" y2="229.2" stroke="#e29dbc" stroke-opacity="0.085" stroke-width="1.5"/>
<line x1="426.0" y1="212.0" x2="370.5" y2="182.8" stroke="#e79cc8" stroke-opacity="0.055" stroke-width="1.5"/>
<line x1="426.0" y1="212.0" x2="441.8" y2="264.2" stroke="#9baf62" stroke-opacity="0.085" stroke-width="1.5"/>
<line x1="426.0" y1="212.0" x2="410.4" y2="170.0" stroke="#e29dbc" stroke-opacity="0.085" stroke-width="1.5"/>
<line x1="426.0" y1="212.0" x2="510.3" y2="241.5" stroke="#e29dbc" stroke-opacity="0.055" stroke-width="1.5"/>
<line x1="374.5" y1="234.7" x2="356.5" y2="245.5" stroke="#0aa5e9" stroke-opacity="0.085" stroke-width="1.5"/>
<line x1="374.5" y1="234.7" x2="374.5" y2="256.4" stroke="#e79cc8" stroke-opacity="0.085" stroke-width="1.5"/>
<line x1="374.5" y1="234.7" x2="390.7" y2="250.9" stroke="#d7aea5" stroke-opacity="0.085" stroke-width="1.5"/>
<line x1="374.5" y1="234.7" x2="363.0" y2="299.8" stroke="#e79cc8" stroke-opacity="0.055" stroke-width="1.5"/>
<line x1="374.5" y1="234.7" x2="435.0" y2="225.0" stroke="#e29dbc" stroke-opacity="0.055" stroke-width="1.5"/>
<line x1="374.5" y1="234.7" x2="460.2" y2="281.0" stroke="#d7aea5" stroke-opacity="0.055" stroke-width="1.9"/>
<line x1="374.5" y1="234.7" x2="459.2" y2="240.2" stroke="#e3524e" stroke-opacity="0.055" stroke-width="1.5"/>
<line x1="395.3" y1="223.7" x2="413.5" y2="229.2" stroke="#e29dbc" stroke-opacity="0.085" stroke-width="1.5"/>
<line x1="395.3" y1="223.7" x2="426.0" y2="212.0" stroke="#e29dbc" stroke-opacity="0.085" stroke-width="1.5"/>
<line x1="395.3" y1="223.7" x2="410.4" y2="170.0" stroke="#e29dbc" stroke-opacity="0.055" stroke-width="1.5"/>
<line x1="395.3" y1="223.7" x2="455.5" y2="204.8" stroke="#e29dbc" stroke-opacity="0.055" stroke-width="1.5"/>
<line x1="395.3" y1="223.7" x2="435.0" y2="225.0" stroke="#e29dbc" stroke-opacity="0.085" stroke-width="1.5"/>
<line x1="413.5" y1="229.2" x2="426.0" y2="242.2" stroke="#e29dbc" stroke-opacity="0.085" stroke-width="1.5"/>
<line x1="413.5" y1="229.2" x2="413.9" y2="249.5" stroke="#9baf62" stroke-opacity="0.085" stroke-width="1.5"/>
<line x1="413.5" y1="229.2" x2="426.0" y2="290.6" stroke="#bdb298" stroke-opacity="0.055" stroke-width="1.5"/>
<line x1="413.5" y1="229.2" x2="410.4" y2="170.0" stroke="#e29dbc" stroke-opacity="0.055" stroke-width="1.5"/>
<line x1="413.5" y1="229.2" x2="460.2" y2="281.0" stroke="#d7aea5" stroke-opacity="0.055" stroke-width="1.5"/>
<line x1="413.5" y1="229.2" x2="467.2" y2="224.6" stroke="#e29dbc" stroke-opacity="0.085" stroke-width="1.5"/>
<line x1="397.8" y1="264.6" x2="390.7" y2="250.9" stroke="#c3b969" stroke-opacity="0.085" stroke-width="1.5"/>
<line x1="397.8" y1="264.6" x2="412.8" y2="272.3" stroke="#d7aea5" stroke-opacity="0.085" stroke-width="1.5"/>
<line x1="397.8" y1="264.6" x2="419.6" y2="261.2" stroke="#d7aea5" stroke-opacity="0.085" stroke-width="1.5"/>
<line x1="397.8" y1="264.6" x2="374.5" y2="234.7" stroke="#d7aea5" stroke-opacity="0.085" stroke-width="1.5"/>
<line x1="397.8" y1="264.6" x2="413.5" y2="229.2" stroke="#d7aea5" stroke-opacity="0.085" stroke-width="1.5"/>
<line x1="397.8" y1="264.6" x2="477.9" y2="191.3" stroke="#b79ebf" stroke-opacity="0.055" stroke-width="1.9"/>
<line x1="397.8" y1="264.6" x2="432.6" y2="273.6" stroke="#babfb4" stroke-opacity="0.085" stroke-width="1.5"/>
<line x1="389.6" y1="287.2" x2="402.2" y2="287.4" stroke="#d7aea5" stroke-opacity="0.085" stroke-width="1.5"/>
<line x1="389.6" y1="287.2" x2="389.1" y2="307.1" stroke="#d7aea5" stroke-opacity="0.085" stroke-width="1.5"/>
<line x1="389.6" y1="287.2" x2="397.8" y2="264.6" stroke="#d7aea5" stroke-opacity="0.085" stroke-width="1.5"/>
<line x1="389.6" y1="287.2" x2="374.5" y2="234.7" stroke="#d7aea5" stroke-opacity="0.085" stroke-width="1.5"/>
<line x1="389.6" y1="287.2" x2="386.4" y2="206.4" stroke="#d7aea5" stroke-opacity="0.055" stroke-width="1.5"/>
<line x1="389.6" y1="287.2" x2="410.4" y2="170.0" stroke="#e79cc8" stroke-opacity="0.034" stroke-width="1.9"/>
<line x1="389.6" y1="287.2" x2="426.0" y2="212.0" stroke="#d7aea5" stroke-opacity="0.055" stroke-width="1.5"/>
<line x1="402.2" y1="287.4" x2="412.8" y2="272.3" stroke="#d7aea5" stroke-opacity="0.085" stroke-width="1.5"/>
<line x1="402.2" y1="287.4" x2="397.8" y2="264.6" stroke="#d7aea5" stroke-opacity="0.085" stroke-width="1.5"/>
<line x1="402.2" y1="287.4" x2="363.0" y2="299.8" stroke="#7fb2b2" stroke-opacity="0.085" stroke-width="1.5"/>
<line x1="402.2" y1="287.4" x2="357.5" y2="277.8" stroke="#b4b632" stroke-opacity="0.085" stroke-width="1.5"/>
<line x1="402.2" y1="287.4" x2="413.9" y2="249.5" stroke="#abb96d" stroke-opacity="0.085" stroke-width="1.5"/>
<line x1="402.2" y1="287.4" x2="455.5" y2="204.8" stroke="#d7aea5" stroke-opacity="0.055" stroke-width="1.9"/>
<line x1="389.1" y1="307.1" x2="385.0" y2="328.4" stroke="#d7aea5" stroke-opacity="0.085" stroke-width="1.5"/>
<line x1="389.1" y1="307.1" x2="402.2" y2="287.4" stroke="#d7aea5" stroke-opacity="0.085" stroke-width="1.5"/>
<line x1="389.1" y1="307.1" x2="312.0" y2="331.0" stroke="#0aa5e9" stroke-opacity="0.055" stroke-width="1.5"/>
<line x1="389.1" y1="307.1" x2="426.5" y2="364.5" stroke="#d7aea5" stroke-opacity="0.055" stroke-width="1.5"/>
<line x1="389.1" y1="307.1" x2="476.4" y2="253.9" stroke="#d88061" stroke-opacity="0.055" stroke-width="1.9"/>
<line x1="389.1" y1="307.1" x2="410.4" y2="170.0" stroke="#e79cc8" stroke-opacity="0.034" stroke-width="1.9"/>
<line x1="352.0" y1="382.5" x2="348.0" y2="351.8" stroke="#7ab83d" stroke-opacity="0.085" stroke-width="1.5"/>
<line x1="352.0" y1="382.5" x2="371.0" y2="352.5" stroke="#e79cc8" stroke-opacity="0.085" stroke-width="1.5"/>
<line x1="352.0" y1="382.5" x2="412.3" y2="385.8" stroke="#b3bb9c" stroke-opacity="0.055" stroke-width="1.5"/>
<line x1="352.0" y1="382.5" x2="402.2" y2="287.4" stroke="#e79cc8" stroke-opacity="0.055" stroke-width="1.9"/>
<line x1="352.0" y1="382.5" x2="471.9" y2="315.3" stroke="#d88061" stroke-opacity="0.034" stroke-width="1.9"/>
<line x1="352.0" y1="382.5" x2="447.5" y2="247.0" stroke="#bdb298" stroke-opacity="0.034" stroke-width="1.9"/>
<line x1="352.0" y1="382.5" x2="502.9" y2="190.0" stroke="#d7aea5" stroke-opacity="0.034" stroke-width="1.9"/>
<line x1="241.8" y1="239.5" x2="274.5" y2="266.0" stroke="#0aa5e9" stroke-opacity="0.085" stroke-width="1.5"/>
<line x1="241.8" y1="239.5" x2="299.0" y2="259.5" stroke="#0aa5e9" stroke-opacity="0.055" stroke-width="1.5"/>
<line x1="241.8" y1="239.5" x2="292.0" y2="290.0" stroke="#0aa5e9" stroke-opacity="0.055" stroke-width="1.5"/>
<line x1="241.8" y1="239.5" x2="386.4" y2="206.4" stroke="#e79cc8" stroke-opacity="0.034" stroke-width="1.9"/>
<line x1="241.8" y1="239.5" x2="403.5" y2="196.8" stroke="#e79cc8" stroke-opacity="0.034" stroke-width="1.9"/>
<line x1="241.8" y1="239.5" x2="479.6" y2="237.4" stroke="#e9281f" stroke-opacity="0.034" stroke-width="1.9"/>
<line x1="241.8" y1="239.5" x2="412.8" y2="186.5" stroke="#0aa5e9" stroke-opacity="0.034" stroke-width="1.9"/>
<line x1="316.5" y1="239.0" x2="339.0" y2="250.0" stroke="#0aa5e9" stroke-opacity="0.085" stroke-width="1.5"/>
<line x1="316.5" y1="239.0" x2="299.0" y2="259.5" stroke="#0aa5e9" stroke-opacity="0.085" stroke-width="1.5"/>
<line x1="316.5" y1="239.0" x2="322.0" y2="269.5" stroke="#0aa5e9" stroke-opacity="0.085" stroke-width="1.5"/>
<line x1="316.5" y1="239.0" x2="374.5" y2="234.7" stroke="#0aa5e9" stroke-opacity="0.055" stroke-width="1.5"/>
<line x1="316.5" y1="239.0" x2="344.0" y2="168.8" stroke="#e79cc8" stroke-opacity="0.055" stroke-width="1.5"/>
<line x1="316.5" y1="239.0" x2="412.8" y2="272.3" stroke="#a5a5a8" stroke-opacity="0.055" stroke-width="1.9"/>
<line x1="316.5" y1="239.0" x2="430.0" y2="177.0" stroke="#0aa5e9" stroke-opacity="0.034" stroke-width="1.9"/>
<line x1="339.0" y1="250.0" x2="356.5" y2="245.5" stroke="#0aa5e9" stroke-opacity="0.085" stroke-width="1.5"/>
<line x1="339.0" y1="250.0" x2="322.0" y2="269.5" stroke="#0aa5e9" stroke-opacity="0.085" stroke-width="1.5"/>
<line x1="339.0" y1="250.0" x2="395.3" y2="223.7" stroke="#e79cc8" stroke-opacity="0.055" stroke-width="1.5"/>
<line x1="339.0" y1="250.0" x2="403.5" y2="196.8" stroke="#e79cc8" stroke-opacity="0.055" stroke-width="1.5"/>
<line x1="339.0" y1="250.0" x2="490.1" y2="226.4" stroke="#e3524e" stroke-opacity="0.034" stroke-width="1.9"/>
<line x1="339.0" y1="250.0" x2="426.0" y2="212.0" stroke="#0aa5e9" stroke-opacity="0.055" stroke-width="1.9"/>
<line x1="356.5" y1="245.5" x2="374.5" y2="256.4" stroke="#0aa5e9" stroke-opacity="0.085" stroke-width="1.5"/>
<line x1="356.5" y1="245.5" x2="312.0" y2="297.0" stroke="#0aa5e9" stroke-opacity="0.055" stroke-width="1.5"/>
<line x1="356.5" y1="245.5" x2="435.0" y2="225.0" stroke="#b4b632" stroke-opacity="0.055" stroke-width="1.5"/>
<line x1="356.5" y1="245.5" x2="430.0" y2="177.0" stroke="#0aa5e9" stroke-opacity="0.055" stroke-width="1.9"/>
<line x1="356.5" y1="245.5" x2="467.6" y2="167.7" stroke="#b79ebf" stroke-opacity="0.034" stroke-width="1.9"/>
<line x1="299.0" y1="259.5" x2="322.0" y2="269.5" stroke="#0aa5e9" stroke-opacity="0.085" stroke-width="1.5"/>
<line x1="299.0" y1="259.5" x2="274.5" y2="266.0" stroke="#0aa5e9" stroke-opacity="0.085" stroke-width="1.5"/>
<line x1="299.0" y1="259.5" x2="344.0" y2="168.8" stroke="#e79cc8" stroke-opacity="0.055" stroke-width="1.9"/>
<line x1="299.0" y1="259.5" x2="325.0" y2="202.0" stroke="#e79cc8" stroke-opacity="0.055" stroke-width="1.5"/>
<line x1="299.0" y1="259.5" x2="510.3" y2="241.5" stroke="#7fb2b2" stroke-opacity="0.034" stroke-width="1.9"/>
<line x1="299.0" y1="259.5" x2="479.6" y2="237.4" stroke="#d88061" stroke-opacity="0.034" stroke-width="1.9"/>
<line x1="274.5" y1="266.0" x2="292.0" y2="290.0" stroke="#0aa5e9" stroke-opacity="0.085" stroke-width="1.5"/>
<line x1="274.5" y1="266.0" x2="344.0" y2="168.8" stroke="#0aa5e9" stroke-opacity="0.034" stroke-width="1.9"/>
<line x1="274.5" y1="266.0" x2="244.0" y2="348.0" stroke="#0aa5e9" stroke-opacity="0.055" stroke-width="1.5"/>
<line x1="274.5" y1="266.0" x2="490.1" y2="226.4" stroke="#d88061" stroke-opacity="0.034" stroke-width="1.9"/>
<line x1="274.5" y1="266.0" x2="490.1" y2="275.5" stroke="#7fb2b2" stroke-opacity="0.034" stroke-width="1.9"/>
<line x1="322.0" y1="269.5" x2="312.0" y2="297.0" stroke="#0aa5e9" stroke-opacity="0.085" stroke-width="1.5"/>
<line x1="322.0" y1="269.5" x2="390.7" y2="250.9" stroke="#b4b632" stroke-opacity="0.055" stroke-width="1.5"/>
<line x1="322.0" y1="269.5" x2="386.4" y2="206.4" stroke="#0aa5e9" stroke-opacity="0.055" stroke-width="1.9"/>
<line x1="322.0" y1="269.5" x2="445.7" y2="160.5" stroke="#0aa5e9" stroke-opacity="0.034" stroke-width="1.9"/>
<line x1="322.0" y1="269.5" x2="479.6" y2="237.4" stroke="#7fb2b2" stroke-opacity="0.034" stroke-width="1.9"/>
<line x1="374.5" y1="256.4" x2="390.7" y2="250.9" stroke="#c3b969" stroke-opacity="0.085" stroke-width="1.5"/>
<line x1="374.5" y1="256.4" x2="389.6" y2="287.2" stroke="#7fb2b2" stroke-opacity="0.085" stroke-width="1.5"/>
<line x1="374.5" y1="256.4" x2="370.5" y2="182.8" stroke="#0aa5e9" stroke-opacity="0.055" stroke-width="1.5"/>
<line x1="374.5" y1="256.4" x2="509.3" y2="205.2" stroke="#52a3d2" stroke-opacity="0.034" stroke-width="1.9"/>
<line x1="374.5" y1="256.4" x2="455.5" y2="204.8" stroke="#52a3d2" stroke-opacity="0.055" stroke-width="1.9"/>
<line x1="292.0" y1="290.0" x2="312.0" y2="297.0" stroke="#0aa5e9" stroke-opacity="0.085" stroke-width="1.5"/>
<line x1="292.0" y1="290.0" x2="299.0" y2="259.5" stroke="#0aa5e9" stroke-opacity="0.085" stroke-width="1.5"/>
<line x1="292.0" y1="290.0" x2="344.0" y2="168.8" stroke="#0aa5e9" stroke-opacity="0.034" stroke-width="1.9"/>
<line x1="292.0" y1="290.0" x2="363.0" y2="299.8" stroke="#0aa5e9" stroke-opacity="0.055" stroke-width="1.5"/>
<line x1="292.0" y1="290.0" x2="413.5" y2="229.2" stroke="#0aa5e9" stroke-opacity="0.034" stroke-width="1.9"/>
<line x1="292.0" y1="290.0" x2="478.8" y2="213.5" stroke="#d88061" stroke-opacity="0.034" stroke-width="1.9"/>
<line x1="312.0" y1="297.0" x2="312.0" y2="331.0" stroke="#0aa5e9" stroke-opacity="0.085" stroke-width="1.5"/>
<line x1="312.0" y1="297.0" x2="371.0" y2="352.5" stroke="#a5a5a8" stroke-opacity="0.055" stroke-width="1.5"/>
<line x1="312.0" y1="297.0" x2="240.0" y2="328.5" stroke="#6aade3" stroke-opacity="0.055" stroke-width="1.5"/>
<line x1="312.0" y1="297.0" x2="395.3" y2="223.7" stroke="#e79cc8" stroke-opacity="0.034" stroke-width="1.9"/>
<line x1="312.0" y1="297.0" x2="503.2" y2="221.9" stroke="#7fb2b2" stroke-opacity="0.034" stroke-width="1.9"/>
<line x1="363.0" y1="299.8" x2="357.5" y2="277.8" stroke="#0aa5e9" stroke-opacity="0.085" stroke-width="1.5"/>
<line x1="363.0" y1="299.8" x2="346.0" y2="320.4" stroke="#0aa5e9" stroke-opacity="0.085" stroke-width="1.5"/>
<line x1="363.0" y1="299.8" x2="389.1" y2="307.1" stroke="#0aa5e9" stroke-opacity="0.085" stroke-width="1.5"/>
<line x1="363.0" y1="299.8" x2="390.7" y2="250.9" stroke="#0aa5e9" stroke-opacity="0.055" stroke-width="1.5"/>
<line x1="363.0" y1="299.8" x2="440.7" y2="282.6" stroke="#7fb2b2" stroke-opacity="0.055" stroke-width="1.5"/>
<line x1="363.0" y1="299.8" x2="478.9" y2="266.3" stroke="#e1c85d" stroke-opacity="0.034" stroke-width="1.9"/>
<line x1="363.0" y1="299.8" x2="439.0" y2="195.0" stroke="#7fb2b2" stroke-opacity="0.034" stroke-width="1.9"/>
<line x1="312.0" y1="331.0" x2="346.0" y2="320.4" stroke="#7ab83d" stroke-opacity="0.085" stroke-width="1.5"/>
<line x1="312.0" y1="331.0" x2="348.0" y2="351.8" stroke="#7ab83d" stroke-opacity="0.085" stroke-width="1.5"/>
<line x1="312.0" y1="331.0" x2="356.5" y2="245.5" stroke="#0aa5e9" stroke-opacity="0.055" stroke-width="1.9"/>
<line x1="312.0" y1="331.0" x2="432.6" y2="273.6" stroke="#0aa5e9" stroke-opacity="0.034" stroke-width="1.9"/>
<line x1="312.0" y1="331.0" x2="478.9" y2="266.3" stroke="#e1c85d" stroke-opacity="0.034" stroke-width="1.9"/>
<line x1="312.0" y1="331.0" x2="403.5" y2="196.8" stroke="#e79cc8" stroke-opacity="0.034" stroke-width="1.9"/>
<line x1="218.3" y1="307.5" x2="240.0" y2="328.5" stroke="#6aade3" stroke-opacity="0.085" stroke-width="1.5"/>
<line x1="218.3" y1="307.5" x2="244.0" y2="348.0" stroke="#6aade3" stroke-opacity="0.085" stroke-width="1.5"/>
<line x1="218.3" y1="307.5" x2="274.5" y2="266.0" stroke="#6aade3" stroke-opacity="0.055" stroke-width="1.5"/>
<line x1="218.3" y1="307.5" x2="363.0" y2="299.8" stroke="#0aa5e9" stroke-opacity="0.034" stroke-width="1.9"/>
<line x1="218.3" y1="307.5" x2="339.0" y2="250.0" stroke="#0aa5e9" stroke-opacity="0.034" stroke-width="1.9"/>
<line x1="218.3" y1="307.5" x2="509.3" y2="205.2" stroke="#6aade3" stroke-opacity="0.034" stroke-width="1.9"/>
<line x1="218.3" y1="307.5" x2="467.6" y2="167.7" stroke="#6aade3" stroke-opacity="0.034" stroke-width="1.9"/>
<line x1="240.0" y1="328.5" x2="244.0" y2="348.0" stroke="#6aade3" stroke-opacity="0.085" stroke-width="1.5"/>
<line x1="240.0" y1="328.5" x2="292.0" y2="290.0" stroke="#6aade3" stroke-opacity="0.055" stroke-width="1.5"/>
<line x1="240.0" y1="328.5" x2="426.0" y2="290.6" stroke="#a5a5a8" stroke-opacity="0.034" stroke-width="1.9"/>
<line x1="240.0" y1="328.5" x2="389.1" y2="307.1" stroke="#e79cc8" stroke-opacity="0.034" stroke-width="1.9"/>
<line x1="240.0" y1="328.5" x2="413.5" y2="229.2" stroke="#e79cc8" stroke-opacity="0.034" stroke-width="1.9"/>
<line x1="240.0" y1="328.5" x2="428.0" y2="156.5" stroke="#6aade3" stroke-opacity="0.034" stroke-width="1.9"/>
<line x1="244.0" y1="348.0" x2="312.0" y2="331.0" stroke="#6aade3" stroke-opacity="0.055" stroke-width="1.5"/>
<line x1="244.0" y1="348.0" x2="374.5" y2="256.4" stroke="#0aa5e9" stroke-opacity="0.034" stroke-width="1.9"/>
<line x1="244.0" y1="348.0" x2="397.8" y2="264.6" stroke="#6aade3" stroke-opacity="0.034" stroke-width="1.9"/>
<line x1="244.0" y1="348.0" x2="470.0" y2="209.6" stroke="#a59dcc" stroke-opacity="0.034" stroke-width="1.9"/>
<line x1="244.0" y1="348.0" x2="467.2" y2="224.6" stroke="#dd98a2" stroke-opacity="0.034" stroke-width="1.9"/>
<line x1="357.5" y1="277.8" x2="374.5" y2="256.4" stroke="#0aa5e9" stroke-opacity="0.085" stroke-width="1.5"/>
<line x1="357.5" y1="277.8" x2="356.5" y2="245.5" stroke="#b4b632" stroke-opacity="0.085" stroke-width="1.5"/>
<line x1="357.5" y1="277.8" x2="316.5" y2="239.0" stroke="#b4b632" stroke-opacity="0.055" stroke-width="1.5"/>
<line x1="357.5" y1="277.8" x2="422.8" y2="341.8" stroke="#b3bb9c" stroke-opacity="0.055" stroke-width="1.9"/>
<line x1="357.5" y1="277.8" x2="432.6" y2="273.6" stroke="#c3b969" stroke-opacity="0.055" stroke-width="1.5"/>
<line x1="357.5" y1="277.8" x2="478.8" y2="213.5" stroke="#d88061" stroke-opacity="0.034" stroke-width="1.9"/>
<line x1="390.7" y1="250.9" x2="316.5" y2="239.0" stroke="#0aa5e9" stroke-opacity="0.055" stroke-width="1.5"/>
<line x1="390.7" y1="250.9" x2="432.6" y2="273.6" stroke="#babfb4" stroke-opacity="0.085" stroke-width="1.5"/>
<line x1="390.7" y1="250.9" x2="424.4" y2="188.0" stroke="#c0ae5b" stroke-opacity="0.055" stroke-width="1.5"/>
<line x1="390.7" y1="250.9" x2="455.5" y2="204.8" stroke="#b79ebf" stroke-opacity="0.055" stroke-width="1.5"/>
<line x1="435.0" y1="225.0" x2="426.0" y2="242.2" stroke="#b7a3a8" stroke-opacity="0.085" stroke-width="1.5"/>
<line x1="435.0" y1="225.0" x2="413.5" y2="229.2" stroke="#e29dbc" stroke-opacity="0.085" stroke-width="1.5"/>
<line x1="435.0" y1="225.0" x2="477.9" y2="191.3" stroke="#c0ae5b" stroke-opacity="0.085" stroke-width="1.5"/>
<line x1="435.0" y1="225.0" x2="419.6" y2="261.2" stroke="#bdb298" stroke-opacity="0.085" stroke-width="1.5"/>
<line x1="346.0" y1="320.4" x2="348.0" y2="351.8" stroke="#7ab83d" stroke-opacity="0.085" stroke-width="1.5"/>
<line x1="346.0" y1="320.4" x2="352.0" y2="382.5" stroke="#e79cc8" stroke-opacity="0.055" stroke-width="1.5"/>
<line x1="346.0" y1="320.4" x2="346.6" y2="217.0" stroke="#e79cc8" stroke-opacity="0.055" stroke-width="1.9"/>
<line x1="346.0" y1="320.4" x2="430.0" y2="177.0" stroke="#abb96d" stroke-opacity="0.034" stroke-width="1.9"/>
<line x1="346.0" y1="320.4" x2="426.0" y2="212.0" stroke="#d7aea5" stroke-opacity="0.034" stroke-width="1.9"/>
<line x1="348.0" y1="351.8" x2="371.0" y2="352.5" stroke="#7ab83d" stroke-opacity="0.085" stroke-width="1.5"/>
<line x1="348.0" y1="351.8" x2="363.0" y2="299.8" stroke="#7ab83d" stroke-opacity="0.085" stroke-width="1.5"/>
<line x1="348.0" y1="351.8" x2="412.3" y2="385.8" stroke="#b3bb9c" stroke-opacity="0.055" stroke-width="1.5"/>
<line x1="348.0" y1="351.8" x2="478.9" y2="266.3" stroke="#abb96d" stroke-opacity="0.034" stroke-width="1.9"/>
<line x1="348.0" y1="351.8" x2="413.9" y2="249.5" stroke="#abb96d" stroke-opacity="0.034" stroke-width="1.9"/>
<line x1="413.9" y1="249.5" x2="419.6" y2="261.2" stroke="#abb96d" stroke-opacity="0.085" stroke-width="1.5"/>
<line x1="413.9" y1="249.5" x2="426.0" y2="242.2" stroke="#bdb298" stroke-opacity="0.085" stroke-width="1.5"/>
<line x1="413.9" y1="249.5" x2="412.8" y2="186.5" stroke="#9baf62" stroke-opacity="0.055" stroke-width="1.5"/>
<line x1="413.9" y1="249.5" x2="356.5" y2="245.5" stroke="#abb96d" stroke-opacity="0.055" stroke-width="1.5"/>
<line x1="413.9" y1="249.5" x2="435.0" y2="225.0" stroke="#c0ae5b" stroke-opacity="0.085" stroke-width="1.5"/>
<line x1="441.8" y1="264.2" x2="432.6" y2="273.6" stroke="#abb96d" stroke-opacity="0.085" stroke-width="1.5"/>
<line x1="441.8" y1="264.2" x2="447.5" y2="247.0" stroke="#abb96d" stroke-opacity="0.085" stroke-width="1.5"/>
<line x1="441.8" y1="264.2" x2="440.7" y2="282.6" stroke="#abb96d" stroke-opacity="0.085" stroke-width="1.5"/>
<line x1="441.8" y1="264.2" x2="435.0" y2="225.0" stroke="#c3b969" stroke-opacity="0.085" stroke-width="1.5"/>
<line x1="441.8" y1="264.2" x2="419.6" y2="261.2" stroke="#bdb298" stroke-opacity="0.085" stroke-width="1.5"/>
<line x1="441.8" y1="264.2" x2="490.1" y2="226.4" stroke="#d88061" stroke-opacity="0.055" stroke-width="1.5"/>
<line x1="385.0" y1="328.4" x2="404.3" y2="329.2" stroke="#abb96d" stroke-opacity="0.085" stroke-width="1.5"/>
<line x1="385.0" y1="328.4" x2="371.0" y2="352.5" stroke="#7ab83d" stroke-opacity="0.085" stroke-width="1.5"/>
<line x1="385.0" y1="328.4" x2="419.6" y2="261.2" stroke="#bdb298" stroke-opacity="0.055" stroke-width="1.5"/>
<line x1="385.0" y1="328.4" x2="444.0" y2="354.3" stroke="#abb96d" stroke-opacity="0.055" stroke-width="1.5"/>
<line x1="385.0" y1="328.4" x2="410.4" y2="170.0" stroke="#d7aea5" stroke-opacity="0.034" stroke-width="1.9"/>
<line x1="385.0" y1="328.4" x2="445.7" y2="160.5" stroke="#bdafa6" stroke-opacity="0.034" stroke-width="1.9"/>
<line x1="426.5" y1="364.5" x2="444.0" y2="354.3" stroke="#b3bb9c" stroke-opacity="0.085" stroke-width="1.5"/>
<line x1="426.5" y1="364.5" x2="422.8" y2="341.8" stroke="#b3bb9c" stroke-opacity="0.085" stroke-width="1.5"/>
<line x1="426.5" y1="364.5" x2="432.0" y2="387.0" stroke="#b3bb9c" stroke-opacity="0.085" stroke-width="1.5"/>
<line x1="426.5" y1="364.5" x2="412.8" y2="272.3" stroke="#bdb298" stroke-opacity="0.055" stroke-width="1.9"/>
<line x1="426.5" y1="364.5" x2="371.0" y2="352.5" stroke="#bdb298" stroke-opacity="0.055" stroke-width="1.5"/>
<line x1="426.5" y1="364.5" x2="476.4" y2="253.9" stroke="#abb96d" stroke-opacity="0.034" stroke-width="1.9"/>
<line x1="426.5" y1="364.5" x2="510.3" y2="241.5" stroke="#abb96d" stroke-opacity="0.034" stroke-width="1.9"/>
<line x1="426.0" y1="242.2" x2="470.0" y2="209.6" stroke="#b79ebf" stroke-opacity="0.085" stroke-width="1.5"/>
<line x1="426.0" y1="242.2" x2="441.3" y2="211.0" stroke="#b79ebf" stroke-opacity="0.085" stroke-width="1.5"/>
<line x1="426.0" y1="242.2" x2="445.7" y2="160.5" stroke="#b79ebf" stroke-opacity="0.055" stroke-width="1.5"/>
<line x1="447.5" y1="247.0" x2="459.2" y2="240.2" stroke="#d88061" stroke-opacity="0.085" stroke-width="1.5"/>
<line x1="447.5" y1="247.0" x2="426.0" y2="242.2" stroke="#bdb298" stroke-opacity="0.085" stroke-width="1.5"/>
<line x1="447.5" y1="247.0" x2="412.8" y2="272.3" stroke="#bdb298" stroke-opacity="0.085" stroke-width="1.5"/>
<line x1="447.5" y1="247.0" x2="478.9" y2="266.3" stroke="#bdb298" stroke-opacity="0.085" stroke-width="1.5"/>
<line x1="447.5" y1="247.0" x2="412.8" y2="186.5" stroke="#b7a3a8" stroke-opacity="0.055" stroke-width="1.5"/>
<line x1="419.6" y1="261.2" x2="412.8" y2="272.3" stroke="#bdb298" stroke-opacity="0.085" stroke-width="1.5"/>
<line x1="419.6" y1="261.2" x2="432.6" y2="273.6" stroke="#babfb4" stroke-opacity="0.085" stroke-width="1.5"/>
<line x1="419.6" y1="261.2" x2="363.0" y2="299.8" stroke="#7fb2b2" stroke-opacity="0.055" stroke-width="1.5"/>
<line x1="412.8" y1="272.3" x2="426.0" y2="212.0" stroke="#d7aea5" stroke-opacity="0.055" stroke-width="1.5"/>
<line x1="412.8" y1="272.3" x2="471.9" y2="315.3" stroke="#bdb298" stroke-opacity="0.055" stroke-width="1.5"/>
<line x1="412.8" y1="272.3" x2="441.3" y2="211.0" stroke="#bdb298" stroke-opacity="0.055" stroke-width="1.5"/>
<line x1="412.8" y1="272.3" x2="456.2" y2="221.3" stroke="#bdb298" stroke-opacity="0.055" stroke-width="1.5"/>
<line x1="426.0" y1="290.6" x2="440.7" y2="282.6" stroke="#bdb298" stroke-opacity="0.085" stroke-width="1.5"/>
<line x1="426.0" y1="290.6" x2="432.6" y2="273.6" stroke="#bdb298" stroke-opacity="0.085" stroke-width="1.5"/>
<line x1="426.0" y1="290.6" x2="412.8" y2="272.3" stroke="#bdb298" stroke-opacity="0.085" stroke-width="1.5"/>
<line x1="426.0" y1="290.6" x2="471.9" y2="315.3" stroke="#bdb298" stroke-opacity="0.085" stroke-width="1.5"/>
<line x1="426.0" y1="290.6" x2="357.5" y2="277.8" stroke="#c3b969" stroke-opacity="0.055" stroke-width="1.5"/>
<line x1="426.0" y1="290.6" x2="395.3" y2="223.7" stroke="#bdb298" stroke-opacity="0.055" stroke-width="1.5"/>
<line x1="404.3" y1="329.2" x2="422.8" y2="341.8" stroke="#bdb298" stroke-opacity="0.085" stroke-width="1.5"/>
<line x1="404.3" y1="329.2" x2="389.1" y2="307.1" stroke="#d7aea5" stroke-opacity="0.085" stroke-width="1.5"/>
<line x1="404.3" y1="329.2" x2="447.5" y2="247.0" stroke="#bdb298" stroke-opacity="0.055" stroke-width="1.9"/>
<line x1="404.3" y1="329.2" x2="312.0" y2="331.0" stroke="#0aa5e9" stroke-opacity="0.055" stroke-width="1.9"/>
<line x1="404.3" y1="329.2" x2="478.9" y2="266.3" stroke="#bdb298" stroke-opacity="0.055" stroke-width="1.9"/>
<line x1="404.3" y1="329.2" x2="441.3" y2="211.0" stroke="#bdb298" stroke-opacity="0.034" stroke-width="1.9"/>
<line x1="371.0" y1="352.5" x2="413.9" y2="249.5" stroke="#bdb298" stroke-opacity="0.034" stroke-width="1.9"/>
<line x1="371.0" y1="352.5" x2="292.0" y2="290.0" stroke="#a5a5a8" stroke-opacity="0.055" stroke-width="1.9"/>
<line x1="371.0" y1="352.5" x2="386.4" y2="206.4" stroke="#e79cc8" stroke-opacity="0.034" stroke-width="1.9"/>
<line x1="371.0" y1="352.5" x2="510.3" y2="241.5" stroke="#d88061" stroke-opacity="0.034" stroke-width="1.9"/>
<line x1="432.6" y1="273.6" x2="440.7" y2="282.6" stroke="#babfb4" stroke-opacity="0.085" stroke-width="1.5"/>
<line x1="432.6" y1="273.6" x2="426.0" y2="242.2" stroke="#babfb4" stroke-opacity="0.085" stroke-width="1.5"/>
<line x1="432.6" y1="273.6" x2="499.0" y2="294.0" stroke="#babfb4" stroke-opacity="0.055" stroke-width="1.5"/>
<line x1="432.6" y1="273.6" x2="490.1" y2="275.5" stroke="#babfb4" stroke-opacity="0.055" stroke-width="1.5"/>
<line x1="432.6" y1="273.6" x2="430.0" y2="177.0" stroke="#b79ebf" stroke-opacity="0.055" stroke-width="1.9"/>
<line x1="440.7" y1="282.6" x2="448.4" y2="293.5" stroke="#b3bb9c" stroke-opacity="0.085" stroke-width="1.5"/>
<line x1="440.7" y1="282.6" x2="479.6" y2="237.4" stroke="#d88061" stroke-opacity="0.055" stroke-width="1.5"/>
<line x1="440.7" y1="282.6" x2="460.2" y2="281.0" stroke="#d88061" stroke-opacity="0.085" stroke-width="1.5"/>
<line x1="440.7" y1="282.6" x2="413.9" y2="249.5" stroke="#abb96d" stroke-opacity="0.085" stroke-width="1.5"/>
<line x1="440.7" y1="282.6" x2="502.9" y2="190.0" stroke="#b3b9d5" stroke-opacity="0.034" stroke-width="1.9"/>
<line x1="448.4" y1="293.5" x2="460.2" y2="281.0" stroke="#b3bb9c" stroke-opacity="0.085" stroke-width="1.5"/>
<line x1="448.4" y1="293.5" x2="426.0" y2="290.6" stroke="#b3bb9c" stroke-opacity="0.085" stroke-width="1.5"/>
<line x1="448.4" y1="293.5" x2="432.6" y2="273.6" stroke="#b3bb9c" stroke-opacity="0.085" stroke-width="1.5"/>
<line x1="448.4" y1="293.5" x2="495.6" y2="252.5" stroke="#d88061" stroke-opacity="0.055" stroke-width="1.5"/>
<line x1="448.4" y1="293.5" x2="493.6" y2="245.0" stroke="#b3bb9c" stroke-opacity="0.055" stroke-width="1.5"/>
<line x1="448.4" y1="293.5" x2="412.8" y2="186.5" stroke="#a7b2af" stroke-opacity="0.034" stroke-width="1.9"/>
<line x1="449.3" y1="317.7" x2="438.3" y2="325.6" stroke="#b3bb9c" stroke-opacity="0.085" stroke-width="1.5"/>
<line x1="449.3" y1="317.7" x2="471.9" y2="315.3" stroke="#d88061" stroke-opacity="0.085" stroke-width="1.5"/>
<line x1="449.3" y1="317.7" x2="448.4" y2="293.5" stroke="#b3bb9c" stroke-opacity="0.085" stroke-width="1.5"/>
<line x1="449.3" y1="317.7" x2="493.5" y2="350.5" stroke="#b3bb9c" stroke-opacity="0.055" stroke-width="1.5"/>
<line x1="449.3" y1="317.7" x2="397.8" y2="264.6" stroke="#b3bb9c" stroke-opacity="0.055" stroke-width="1.5"/>
<line x1="449.3" y1="317.7" x2="435.0" y2="225.0" stroke="#b3bb9c" stroke-opacity="0.055" stroke-width="1.9"/>
<line x1="449.3" y1="317.7" x2="459.0" y2="192.4" stroke="#bdafa6" stroke-opacity="0.034" stroke-width="1.9"/>
<line x1="438.3" y1="325.6" x2="422.8" y2="341.8" stroke="#b3bb9c" stroke-opacity="0.085" stroke-width="1.5"/>
<line x1="438.3" y1="325.6" x2="444.0" y2="354.3" stroke="#b3bb9c" stroke-opacity="0.085" stroke-width="1.5"/>
<line x1="438.3" y1="325.6" x2="413.9" y2="249.5" stroke="#abb96d" stroke-opacity="0.055" stroke-width="1.5"/>
<line x1="438.3" y1="325.6" x2="371.0" y2="352.5" stroke="#b3bb9c" stroke-opacity="0.055" stroke-width="1.5"/>
<line x1="438.3" y1="325.6" x2="460.2" y2="281.0" stroke="#b3bb9c" stroke-opacity="0.085" stroke-width="1.5"/>
<line x1="438.3" y1="325.6" x2="413.5" y2="229.2" stroke="#d7aea5" stroke-opacity="0.055" stroke-width="1.9"/>
<line x1="422.8" y1="341.8" x2="487.4" y2="295.0" stroke="#b3bb9c" stroke-opacity="0.055" stroke-width="1.5"/>
<line x1="422.8" y1="341.8" x2="499.0" y2="294.0" stroke="#e1c85d" stroke-opacity="0.055" stroke-width="1.5"/>
<line x1="422.8" y1="341.8" x2="432.6" y2="273.6" stroke="#babfb4" stroke-opacity="0.055" stroke-width="1.5"/>
<line x1="422.8" y1="341.8" x2="455.5" y2="204.8" stroke="#b3bb9c" stroke-opacity="0.034" stroke-width="1.9"/>
<line x1="444.0" y1="354.3" x2="422.8" y2="341.8" stroke="#b3bb9c" stroke-opacity="0.085" stroke-width="1.5"/>
<line x1="444.0" y1="354.3" x2="440.7" y2="282.6" stroke="#b3bb9c" stroke-opacity="0.055" stroke-width="1.5"/>
<line x1="444.0" y1="354.3" x2="426.0" y2="290.6" stroke="#bdb298" stroke-opacity="0.055" stroke-width="1.5"/>
<line x1="444.0" y1="354.3" x2="495.6" y2="252.5" stroke="#d88061" stroke-opacity="0.034" stroke-width="1.9"/>
<line x1="444.0" y1="354.3" x2="502.9" y2="190.0" stroke="#ddab61" stroke-opacity="0.034" stroke-width="1.9"/>
<line x1="412.3" y1="385.8" x2="432.0" y2="387.0" stroke="#b3bb9c" stroke-opacity="0.085" stroke-width="1.5"/>
<line x1="412.3" y1="385.8" x2="426.5" y2="364.5" stroke="#abb96d" stroke-opacity="0.085" stroke-width="1.5"/>
<line x1="412.3" y1="385.8" x2="444.0" y2="354.3" stroke="#b3bb9c" stroke-opacity="0.085" stroke-width="1.5"/>
<line x1="412.3" y1="385.8" x2="389.1" y2="307.1" stroke="#b3bb9c" stroke-opacity="0.055" stroke-width="1.5"/>
<line x1="412.3" y1="385.8" x2="363.0" y2="299.8" stroke="#b3bb9c" stroke-opacity="0.055" stroke-width="1.9"/>
<line x1="412.3" y1="385.8" x2="467.2" y2="224.6" stroke="#b3bb9c" stroke-opacity="0.034" stroke-width="1.9"/>
<line x1="412.3" y1="385.8" x2="495.6" y2="252.5" stroke="#b3bb9c" stroke-opacity="0.034" stroke-width="1.9"/>
<line x1="432.0" y1="387.0" x2="444.0" y2="354.3" stroke="#b3bb9c" stroke-opacity="0.085" stroke-width="1.5"/>
<line x1="432.0" y1="387.0" x2="397.8" y2="264.6" stroke="#d7aea5" stroke-opacity="0.034" stroke-width="1.9"/>
<line x1="432.0" y1="387.0" x2="371.0" y2="352.5" stroke="#b3bb9c" stroke-opacity="0.055" stroke-width="1.5"/>
<line x1="432.0" y1="387.0" x2="412.8" y2="272.3" stroke="#bdb298" stroke-opacity="0.034" stroke-width="1.9"/>
<line x1="432.0" y1="387.0" x2="428.0" y2="156.5" stroke="#b3bb9c" stroke-opacity="0.034" stroke-width="1.9"/>
<line x1="478.8" y1="213.5" x2="467.2" y2="224.6" stroke="#e3524e" stroke-opacity="0.085" stroke-width="1.5"/>
<line x1="478.8" y1="213.5" x2="490.1" y2="226.4" stroke="#e3524e" stroke-opacity="0.085" stroke-width="1.5"/>
<line x1="478.8" y1="213.5" x2="447.5" y2="247.0" stroke="#e3524e" stroke-opacity="0.085" stroke-width="1.5"/>
<line x1="478.8" y1="213.5" x2="456.2" y2="221.3" stroke="#b79ebf" stroke-opacity="0.085" stroke-width="1.5"/>
<line x1="478.8" y1="213.5" x2="402.5" y2="208.0" stroke="#e29dbc" stroke-opacity="0.055" stroke-width="1.5"/>
<line x1="478.8" y1="213.5" x2="490.1" y2="275.5" stroke="#e9281f" stroke-opacity="0.055" stroke-width="1.5"/>
<line x1="490.1" y1="226.4" x2="503.2" y2="221.9" stroke="#db9aa4" stroke-opacity="0.085" stroke-width="1.5"/>
<line x1="490.1" y1="226.4" x2="479.6" y2="237.4" stroke="#e3524e" stroke-opacity="0.085" stroke-width="1.5"/>
<line x1="490.1" y1="226.4" x2="502.9" y2="190.0" stroke="#e3524e" stroke-opacity="0.085" stroke-width="1.5"/>
<line x1="490.1" y1="226.4" x2="510.3" y2="241.5" stroke="#e3524e" stroke-opacity="0.085" stroke-width="1.5"/>
<line x1="490.1" y1="226.4" x2="413.5" y2="229.2" stroke="#e29dbc" stroke-opacity="0.055" stroke-width="1.5"/>
<line x1="490.1" y1="226.4" x2="476.4" y2="253.9" stroke="#e9281f" stroke-opacity="0.085" stroke-width="1.5"/>
<line x1="459.2" y1="240.2" x2="467.2" y2="224.6" stroke="#db9aa4" stroke-opacity="0.085" stroke-width="1.5"/>
<line x1="459.2" y1="240.2" x2="456.2" y2="221.3" stroke="#b79ebf" stroke-opacity="0.085" stroke-width="1.5"/>
<line x1="459.2" y1="240.2" x2="478.8" y2="213.5" stroke="#e3524e" stroke-opacity="0.085" stroke-width="1.5"/>
<line x1="459.2" y1="240.2" x2="478.9" y2="266.3" stroke="#e1c85d" stroke-opacity="0.085" stroke-width="1.5"/>
<line x1="459.2" y1="240.2" x2="386.4" y2="206.4" stroke="#e29dbc" stroke-opacity="0.055" stroke-width="1.5"/>
<line x1="459.2" y1="240.2" x2="476.4" y2="253.9" stroke="#d88061" stroke-opacity="0.085" stroke-width="1.5"/>
<line x1="479.6" y1="237.4" x2="493.6" y2="245.0" stroke="#e9281f" stroke-opacity="0.085" stroke-width="1.5"/>
<line x1="479.6" y1="237.4" x2="476.4" y2="253.9" stroke="#d88061" stroke-opacity="0.085" stroke-width="1.5"/>
<line x1="479.6" y1="237.4" x2="447.5" y2="247.0" stroke="#bdb298" stroke-opacity="0.085" stroke-width="1.5"/>
<line x1="479.6" y1="237.4" x2="510.3" y2="241.5" stroke="#e3524e" stroke-opacity="0.085" stroke-width="1.5"/>
<line x1="479.6" y1="237.4" x2="410.4" y2="170.0" stroke="#e29dbc" stroke-opacity="0.055" stroke-width="1.9"/>
<line x1="479.6" y1="237.4" x2="509.3" y2="205.2" stroke="#ec984e" stroke-opacity="0.085" stroke-width="1.5"/>
<line x1="510.3" y1="241.5" x2="493.6" y2="245.0" stroke="#e9281f" stroke-opacity="0.085" stroke-width="1.5"/>
<line x1="510.3" y1="241.5" x2="495.6" y2="252.5" stroke="#e9281f" stroke-opacity="0.085" stroke-width="1.5"/>
<line x1="510.3" y1="241.5" x2="503.2" y2="221.9" stroke="#db9aa4" stroke-opacity="0.085" stroke-width="1.5"/>
<line x1="510.3" y1="241.5" x2="476.4" y2="253.9" stroke="#e9281f" stroke-opacity="0.085" stroke-width="1.5"/>
<line x1="510.3" y1="241.5" x2="463.7" y2="200.6" stroke="#b79ebf" stroke-opacity="0.055" stroke-width="1.5"/>
<line x1="510.3" y1="241.5" x2="432.6" y2="273.6" stroke="#d88061" stroke-opacity="0.055" stroke-width="1.5"/>
<line x1="510.3" y1="241.5" x2="410.4" y2="170.0" stroke="#e29dbc" stroke-opacity="0.034" stroke-width="1.9"/>
<line x1="493.6" y1="245.0" x2="495.6" y2="252.5" stroke="#e9281f" stroke-opacity="0.085" stroke-width="1.5"/>
<line x1="493.6" y1="245.0" x2="447.5" y2="247.0" stroke="#bdb298" stroke-opacity="0.085" stroke-width="1.5"/>
<line x1="493.6" y1="245.0" x2="509.3" y2="205.2" stroke="#ec984e" stroke-opacity="0.085" stroke-width="1.5"/>
<line x1="493.6" y1="245.0" x2="470.0" y2="209.6" stroke="#e3524e" stroke-opacity="0.085" stroke-width="1.5"/>
<line x1="495.6" y1="252.5" x2="476.4" y2="253.9" stroke="#e9281f" stroke-opacity="0.085" stroke-width="1.5"/>
<line x1="495.6" y1="252.5" x2="487.4" y2="295.0" stroke="#ffdd15" stroke-opacity="0.085" stroke-width="1.5"/>
<line x1="495.6" y1="252.5" x2="479.6" y2="237.4" stroke="#e9281f" stroke-opacity="0.085" stroke-width="1.5"/>
<line x1="495.6" y1="252.5" x2="445.7" y2="160.5" stroke="#e3524e" stroke-opacity="0.055" stroke-width="1.9"/>
<line x1="495.6" y1="252.5" x2="470.0" y2="209.6" stroke="#b79ebf" stroke-opacity="0.085" stroke-width="1.5"/>
<line x1="476.4" y1="253.9" x2="478.9" y2="266.3" stroke="#e1c85d" stroke-opacity="0.085" stroke-width="1.5"/>
<line x1="476.4" y1="253.9" x2="487.4" y2="295.0" stroke="#e9281f" stroke-opacity="0.085" stroke-width="1.5"/>
<line x1="476.4" y1="253.9" x2="467.2" y2="224.6" stroke="#e3524e" stroke-opacity="0.085" stroke-width="1.5"/>
<line x1="460.2" y1="281.0" x2="478.9" y2="266.3" stroke="#d88061" stroke-opacity="0.085" stroke-width="1.5"/>
<line x1="460.2" y1="281.0" x2="493.6" y2="245.0" stroke="#d88061" stroke-opacity="0.085" stroke-width="1.5"/>
<line x1="460.2" y1="281.0" x2="432.6" y2="273.6" stroke="#d88061" stroke-opacity="0.085" stroke-width="1.5"/>
<line x1="460.2" y1="281.0" x2="412.8" y2="186.5" stroke="#e29dbc" stroke-opacity="0.055" stroke-width="1.9"/>
<line x1="460.2" y1="281.0" x2="386.4" y2="206.4" stroke="#d7aea5" stroke-opacity="0.055" stroke-width="1.9"/>
<line x1="490.1" y1="275.5" x2="478.9" y2="266.3" stroke="#e9281f" stroke-opacity="0.085" stroke-width="1.5"/>
<line x1="490.1" y1="275.5" x2="487.4" y2="295.0" stroke="#ffdd15" stroke-opacity="0.085" stroke-width="1.5"/>
<line x1="490.1" y1="275.5" x2="499.0" y2="294.0" stroke="#e9281f" stroke-opacity="0.085" stroke-width="1.5"/>
<line x1="490.1" y1="275.5" x2="426.0" y2="242.2" stroke="#bdb298" stroke-opacity="0.055" stroke-width="1.5"/>
<line x1="490.1" y1="275.5" x2="509.3" y2="205.2" stroke="#f7941f" stroke-opacity="0.055" stroke-width="1.5"/>
<line x1="490.1" y1="275.5" x2="426.0" y2="212.0" stroke="#d88061" stroke-opacity="0.055" stroke-width="1.9"/>
<line x1="471.9" y1="315.3" x2="486.0" y2="322.0" stroke="#e1c85d" stroke-opacity="0.085" stroke-width="1.5"/>
<line x1="471.9" y1="315.3" x2="469.8" y2="338.0" stroke="#d88061" stroke-opacity="0.085" stroke-width="1.5"/>
<line x1="471.9" y1="315.3" x2="404.3" y2="329.2" stroke="#bdb298" stroke-opacity="0.055" stroke-width="1.5"/>
<line x1="471.9" y1="315.3" x2="478.9" y2="266.3" stroke="#e1c85d" stroke-opacity="0.085" stroke-width="1.5"/>
<line x1="471.9" y1="315.3" x2="477.9" y2="191.3" stroke="#bdafa6" stroke-opacity="0.034" stroke-width="1.9"/>
<line x1="471.9" y1="315.3" x2="441.3" y2="211.0" stroke="#bdafa6" stroke-opacity="0.055" stroke-width="1.9"/>
<line x1="619.8" y1="276.3" x2="587.8" y2="236.8" stroke="#e9281f" stroke-opacity="0.085" stroke-width="1.5"/>
<line x1="619.8" y1="276.3" x2="561.3" y2="263.5" stroke="#dd98a2" stroke-opacity="0.055" stroke-width="1.5"/>
<line x1="619.8" y1="276.3" x2="567.0" y2="233.3" stroke="#2f6fc0" stroke-opacity="0.055" stroke-width="1.5"/>
<line x1="619.8" y1="276.3" x2="502.9" y2="190.0" stroke="#e9281f" stroke-opacity="0.034" stroke-width="1.9"/>
<line x1="619.8" y1="276.3" x2="479.6" y2="237.4" stroke="#e9281f" stroke-opacity="0.034" stroke-width="1.9"/>
<line x1="619.8" y1="276.3" x2="447.5" y2="247.0" stroke="#a5a5a8" stroke-opacity="0.034" stroke-width="1.9"/>
<line x1="619.8" y1="276.3" x2="478.8" y2="213.5" stroke="#e9281f" stroke-opacity="0.034" stroke-width="1.9"/>
<line x1="467.2" y1="224.6" x2="412.8" y2="186.5" stroke="#db9aa4" stroke-opacity="0.055" stroke-width="1.5"/>
<line x1="467.2" y1="224.6" x2="490.0" y2="180.7" stroke="#b79ebf" stroke-opacity="0.085" stroke-width="1.5"/>
<line x1="467.2" y1="224.6" x2="479.6" y2="237.4" stroke="#e3524e" stroke-opacity="0.085" stroke-width="1.5"/>
<line x1="467.2" y1="224.6" x2="503.2" y2="221.9" stroke="#db9aa4" stroke-opacity="0.085" stroke-width="1.5"/>
<line x1="503.2" y1="221.9" x2="509.3" y2="205.2" stroke="#ec984e" stroke-opacity="0.085" stroke-width="1.5"/>
<line x1="503.2" y1="221.9" x2="477.9" y2="191.3" stroke="#b79ebf" stroke-opacity="0.085" stroke-width="1.5"/>
<line x1="503.2" y1="221.9" x2="479.6" y2="237.4" stroke="#db9aa4" stroke-opacity="0.085" stroke-width="1.5"/>
<line x1="503.2" y1="221.9" x2="410.4" y2="170.0" stroke="#db9aa4" stroke-opacity="0.055" stroke-width="1.9"/>
<line x1="527.2" y1="219.5" x2="532.0" y2="203.4" stroke="#db9aa4" stroke-opacity="0.085" stroke-width="1.5"/>
<line x1="527.2" y1="219.5" x2="509.3" y2="205.2" stroke="#db9aa4" stroke-opacity="0.085" stroke-width="1.5"/>
<line x1="527.2" y1="219.5" x2="503.2" y2="221.9" stroke="#db9aa4" stroke-opacity="0.085" stroke-width="1.5"/>
<line x1="527.2" y1="219.5" x2="530.7" y2="256.2" stroke="#db9aa4" stroke-opacity="0.085" stroke-width="1.5"/>
<line x1="527.2" y1="219.5" x2="463.7" y2="200.6" stroke="#b79ebf" stroke-opacity="0.055" stroke-width="1.5"/>
<line x1="527.2" y1="219.5" x2="413.5" y2="229.2" stroke="#db9aa4" stroke-opacity="0.034" stroke-width="1.9"/>
<line x1="527.2" y1="219.5" x2="402.5" y2="208.0" stroke="#e29dbc" stroke-opacity="0.034" stroke-width="1.9"/>
<line x1="587.8" y1="236.8" x2="567.0" y2="233.3" stroke="#dd98a2" stroke-opacity="0.085" stroke-width="1.5"/>
<line x1="587.8" y1="236.8" x2="561.3" y2="263.5" stroke="#dd98a2" stroke-opacity="0.085" stroke-width="1.5"/>
<line x1="587.8" y1="236.8" x2="547.5" y2="236.8" stroke="#dd98a2" stroke-opacity="0.085" stroke-width="1.5"/>
<line x1="587.8" y1="236.8" x2="611.0" y2="194.5" stroke="#dd98a2" stroke-opacity="0.085" stroke-width="1.5"/>
<line x1="587.8" y1="236.8" x2="509.3" y2="205.2" stroke="#db9aa4" stroke-opacity="0.055" stroke-width="1.5"/>
<line x1="587.8" y1="236.8" x2="445.7" y2="160.5" stroke="#db9aa4" stroke-opacity="0.034" stroke-width="1.9"/>
<line x1="587.8" y1="236.8" x2="386.4" y2="206.4" stroke="#e29dbc" stroke-opacity="0.034" stroke-width="1.9"/>
<line x1="561.3" y1="263.5" x2="547.5" y2="236.8" stroke="#dd98a2" stroke-opacity="0.085" stroke-width="1.5"/>
<line x1="561.3" y1="263.5" x2="567.0" y2="233.3" stroke="#dd98a2" stroke-opacity="0.085" stroke-width="1.5"/>
<line x1="561.3" y1="263.5" x2="530.7" y2="256.2" stroke="#ffdd15" stroke-opacity="0.085" stroke-width="1.5"/>
<line x1="561.3" y1="263.5" x2="479.6" y2="237.4" stroke="#dd98a2" stroke-opacity="0.055" stroke-width="1.5"/>
<line x1="561.3" y1="263.5" x2="493.6" y2="245.0" stroke="#e9281f" stroke-opacity="0.055" stroke-width="1.5"/>
<line x1="561.3" y1="263.5" x2="509.3" y2="205.2" stroke="#db9aa4" stroke-opacity="0.055" stroke-width="1.5"/>
<line x1="561.3" y1="263.5" x2="478.9" y2="266.3" stroke="#dd98a2" stroke-opacity="0.055" stroke-width="1.5"/>
<line x1="547.5" y1="236.8" x2="567.0" y2="233.3" stroke="#6a80b7" stroke-opacity="0.085" stroke-width="1.5"/>
<line x1="547.5" y1="236.8" x2="530.7" y2="256.2" stroke="#ffdd15" stroke-opacity="0.085" stroke-width="1.5"/>
<line x1="547.5" y1="236.8" x2="527.2" y2="219.5" stroke="#db9aa4" stroke-opacity="0.085" stroke-width="1.5"/>
<line x1="547.5" y1="236.8" x2="478.9" y2="266.3" stroke="#ffdd15" stroke-opacity="0.055" stroke-width="1.5"/>
<line x1="547.5" y1="236.8" x2="515.7" y2="304.7" stroke="#2f6fc0" stroke-opacity="0.055" stroke-width="1.5"/>
<line x1="547.5" y1="236.8" x2="395.3" y2="223.7" stroke="#6a80b7" stroke-opacity="0.034" stroke-width="1.9"/>
<line x1="547.5" y1="236.8" x2="412.8" y2="272.3" stroke="#2f6fc0" stroke-opacity="0.034" stroke-width="1.9"/>
<line x1="567.0" y1="233.3" x2="569.0" y2="145.5" stroke="#f7941f" stroke-opacity="0.055" stroke-width="1.5"/>
<line x1="567.0" y1="233.3" x2="518.7" y2="176.6" stroke="#ba79ab" stroke-opacity="0.055" stroke-width="1.5"/>
<line x1="567.0" y1="233.3" x2="465.8" y2="177.3" stroke="#6a80b7" stroke-opacity="0.034" stroke-width="1.9"/>
<line x1="567.0" y1="233.3" x2="495.6" y2="252.5" stroke="#e9281f" stroke-opacity="0.055" stroke-width="1.5"/>
<line x1="575.7" y1="92.5" x2="539.0" y2="130.2" stroke="#ec984e" stroke-opacity="0.085" stroke-width="1.5"/>
<line x1="575.7" y1="92.5" x2="569.0" y2="145.5" stroke="#f7941f" stroke-opacity="0.085" stroke-width="1.5"/>
<line x1="575.7" y1="92.5" x2="612.0" y2="135.0" stroke="#f7941f" stroke-opacity="0.055" stroke-width="1.5"/>
<line x1="575.7" y1="92.5" x2="527.2" y2="219.5" stroke="#ec984e" stroke-opacity="0.034" stroke-width="1.9"/>
<line x1="575.7" y1="92.5" x2="448.5" y2="121.0" stroke="#b79ebf" stroke-opacity="0.034" stroke-width="1.9"/>
<line x1="575.7" y1="92.5" x2="490.1" y2="275.5" stroke="#ec984e" stroke-opacity="0.034" stroke-width="1.9"/>
<line x1="575.7" y1="92.5" x2="510.3" y2="241.5" stroke="#e3524e" stroke-opacity="0.034" stroke-width="1.9"/>
<line x1="612.0" y1="135.0" x2="654.0" y2="131.0" stroke="#f7941f" stroke-opacity="0.085" stroke-width="1.5"/>
<line x1="612.0" y1="135.0" x2="569.0" y2="145.5" stroke="#f7941f" stroke-opacity="0.085" stroke-width="1.5"/>
<line x1="612.0" y1="135.0" x2="578.5" y2="170.5" stroke="#f7941f" stroke-opacity="0.085" stroke-width="1.5"/>
<line x1="612.0" y1="135.0" x2="467.6" y2="118.5" stroke="#ec984e" stroke-opacity="0.034" stroke-width="1.9"/>
<line x1="612.0" y1="135.0" x2="490.0" y2="180.7" stroke="#ec984e" stroke-opacity="0.034" stroke-width="1.9"/>
<line x1="612.0" y1="135.0" x2="510.3" y2="241.5" stroke="#e9281f" stroke-opacity="0.034" stroke-width="1.9"/>
<line x1="612.0" y1="135.0" x2="395.3" y2="223.7" stroke="#ec984e" stroke-opacity="0.034" stroke-width="1.9"/>
<line x1="654.0" y1="131.0" x2="611.0" y2="194.5" stroke="#f7941f" stroke-opacity="0.055" stroke-width="1.5"/>
<line x1="654.0" y1="131.0" x2="578.5" y2="170.5" stroke="#f7941f" stroke-opacity="0.055" stroke-width="1.5"/>
<line x1="654.0" y1="131.0" x2="516.3" y2="104.8" stroke="#f7941f" stroke-opacity="0.034" stroke-width="1.9"/>
<line x1="654.0" y1="131.0" x2="530.7" y2="256.2" stroke="#f7941f" stroke-opacity="0.034" stroke-width="1.9"/>
<line x1="654.0" y1="131.0" x2="419.6" y2="261.2" stroke="#b7a3a8" stroke-opacity="0.034" stroke-width="1.9"/>
<line x1="654.0" y1="131.0" x2="403.5" y2="196.8" stroke="#ec984e" stroke-opacity="0.034" stroke-width="1.9"/>
<line x1="569.0" y1="145.5" x2="560.5" y2="163.0" stroke="#f7941f" stroke-opacity="0.085" stroke-width="1.5"/>
<line x1="569.0" y1="145.5" x2="578.5" y2="170.5" stroke="#f7941f" stroke-opacity="0.085" stroke-width="1.5"/>
<line x1="569.0" y1="145.5" x2="547.5" y2="236.8" stroke="#ec984e" stroke-opacity="0.055" stroke-width="1.9"/>
<line x1="569.0" y1="145.5" x2="465.8" y2="177.3" stroke="#ec984e" stroke-opacity="0.055" stroke-width="1.9"/>
<line x1="569.0" y1="145.5" x2="412.8" y2="186.5" stroke="#ec984e" stroke-opacity="0.034" stroke-width="1.9"/>
<line x1="569.0" y1="145.5" x2="502.9" y2="190.0" stroke="#ec984e" stroke-opacity="0.055" stroke-width="1.5"/>
<line x1="560.5" y1="163.0" x2="545.5" y2="171.0" stroke="#ec984e" stroke-opacity="0.085" stroke-width="1.5"/>
<line x1="560.5" y1="163.0" x2="578.5" y2="170.5" stroke="#f7941f" stroke-opacity="0.085" stroke-width="1.5"/>
<line x1="560.5" y1="163.0" x2="498.4" y2="134.3" stroke="#b79ebf" stroke-opacity="0.055" stroke-width="1.5"/>
<line x1="560.5" y1="163.0" x2="539.0" y2="130.2" stroke="#ba79ab" stroke-opacity="0.085" stroke-width="1.5"/>
<line x1="560.5" y1="163.0" x2="413.9" y2="249.5" stroke="#9baf62" stroke-opacity="0.034" stroke-width="1.9"/>
<line x1="560.5" y1="163.0" x2="502.9" y2="190.0" stroke="#ec984e" stroke-opacity="0.055" stroke-width="1.5"/>
<line x1="578.5" y1="170.5" x2="545.5" y2="171.0" stroke="#f7941f" stroke-opacity="0.085" stroke-width="1.5"/>
<line x1="578.5" y1="170.5" x2="518.7" y2="176.6" stroke="#ec984e" stroke-opacity="0.055" stroke-width="1.5"/>
<line x1="578.5" y1="170.5" x2="528.0" y2="159.0" stroke="#ec984e" stroke-opacity="0.085" stroke-width="1.5"/>
<line x1="578.5" y1="170.5" x2="463.7" y2="200.6" stroke="#b79ebf" stroke-opacity="0.034" stroke-width="1.9"/>
<line x1="578.5" y1="170.5" x2="479.6" y2="237.4" stroke="#ec984e" stroke-opacity="0.034" stroke-width="1.9"/>
<line x1="545.5" y1="171.0" x2="536.3" y2="182.0" stroke="#ec984e" stroke-opacity="0.085" stroke-width="1.5"/>
<line x1="545.5" y1="171.0" x2="516.3" y2="104.8" stroke="#ba79ab" stroke-opacity="0.055" stroke-width="1.5"/>
<line x1="545.5" y1="171.0" x2="493.6" y2="245.0" stroke="#e3524e" stroke-opacity="0.055" stroke-width="1.9"/>
<line x1="545.5" y1="171.0" x2="503.2" y2="221.9" stroke="#ec984e" stroke-opacity="0.055" stroke-width="1.5"/>
<line x1="545.5" y1="171.0" x2="439.0" y2="195.0" stroke="#ec984e" stroke-opacity="0.055" stroke-width="1.9"/>
<line x1="536.3" y1="182.0" x2="532.0" y2="203.4" stroke="#ec984e" stroke-opacity="0.085" stroke-width="1.5"/>
<line x1="536.3" y1="182.0" x2="560.5" y2="163.0" stroke="#ec984e" stroke-opacity="0.085" stroke-width="1.5"/>
<line x1="536.3" y1="182.0" x2="479.6" y2="237.4" stroke="#ec984e" stroke-opacity="0.055" stroke-width="1.5"/>
<line x1="536.3" y1="182.0" x2="478.9" y2="266.3" stroke="#ec984e" stroke-opacity="0.055" stroke-width="1.9"/>
<line x1="536.3" y1="182.0" x2="478.8" y2="213.5" stroke="#e3524e" stroke-opacity="0.055" stroke-width="1.5"/>
<line x1="502.9" y1="190.0" x2="509.3" y2="205.2" stroke="#ec984e" stroke-opacity="0.085" stroke-width="1.5"/>
<line x1="502.9" y1="190.0" x2="536.3" y2="182.0" stroke="#ec984e" stroke-opacity="0.085" stroke-width="1.5"/>
<line x1="502.9" y1="190.0" x2="459.0" y2="192.4" stroke="#ec984e" stroke-opacity="0.085" stroke-width="1.5"/>
<line x1="502.9" y1="190.0" x2="435.0" y2="225.0" stroke="#c0ae5b" stroke-opacity="0.055" stroke-width="1.5"/>
<line x1="502.9" y1="190.0" x2="447.5" y2="247.0" stroke="#ec984e" stroke-opacity="0.055" stroke-width="1.5"/>
<line x1="509.3" y1="205.2" x2="532.0" y2="203.4" stroke="#ec984e" stroke-opacity="0.085" stroke-width="1.5"/>
<line x1="509.3" y1="205.2" x2="439.0" y2="195.0" stroke="#b79ebf" stroke-opacity="0.055" stroke-width="1.5"/>
<line x1="509.3" y1="205.2" x2="490.0" y2="180.7" stroke="#ec984e" stroke-opacity="0.085" stroke-width="1.5"/>
<line x1="509.3" y1="205.2" x2="465.8" y2="177.3" stroke="#ec984e" stroke-opacity="0.085" stroke-width="1.5"/>
<line x1="532.0" y1="203.4" x2="490.0" y2="180.7" stroke="#b79ebf" stroke-opacity="0.085" stroke-width="1.5"/>
<line x1="532.0" y1="203.4" x2="470.0" y2="209.6" stroke="#ec984e" stroke-opacity="0.055" stroke-width="1.5"/>
<line x1="532.0" y1="203.4" x2="386.4" y2="206.4" stroke="#ec984e" stroke-opacity="0.034" stroke-width="1.9"/>
<line x1="532.0" y1="203.4" x2="426.0" y2="212.0" stroke="#e29dbc" stroke-opacity="0.055" stroke-width="1.9"/>
<line x1="558.0" y1="202.5" x2="532.0" y2="203.4" stroke="#ec984e" stroke-opacity="0.085" stroke-width="1.5"/>
<line x1="558.0" y1="202.5" x2="536.3" y2="182.0" stroke="#ec984e" stroke-opacity="0.085" stroke-width="1.5"/>
<line x1="558.0" y1="202.5" x2="567.0" y2="233.3" stroke="#f7941f" stroke-opacity="0.085" stroke-width="1.5"/>
<line x1="558.0" y1="202.5" x2="477.9" y2="191.3" stroke="#b79ebf" stroke-opacity="0.055" stroke-width="1.5"/>
<line x1="558.0" y1="202.5" x2="587.8" y2="236.8" stroke="#dd98a2" stroke-opacity="0.085" stroke-width="1.5"/>
<line x1="558.0" y1="202.5" x2="419.6" y2="261.2" stroke="#ec984e" stroke-opacity="0.034" stroke-width="1.9"/>
<line x1="558.0" y1="202.5" x2="413.5" y2="229.2" stroke="#e29dbc" stroke-opacity="0.034" stroke-width="1.9"/>
<line x1="611.0" y1="194.5" x2="578.5" y2="170.5" stroke="#f7941f" stroke-opacity="0.085" stroke-width="1.5"/>
<line x1="611.0" y1="194.5" x2="558.0" y2="202.5" stroke="#f7941f" stroke-opacity="0.085" stroke-width="1.5"/>
<line x1="611.0" y1="194.5" x2="518.7" y2="176.6" stroke="#aa64ad" stroke-opacity="0.055" stroke-width="1.9"/>
<line x1="611.0" y1="194.5" x2="479.6" y2="237.4" stroke="#ec984e" stroke-opacity="0.034" stroke-width="1.9"/>
<line x1="611.0" y1="194.5" x2="413.9" y2="249.5" stroke="#9baf62" stroke-opacity="0.034" stroke-width="1.9"/>
<line x1="478.9" y1="266.3" x2="495.6" y2="252.5" stroke="#e9281f" stroke-opacity="0.085" stroke-width="1.5"/>
<line x1="478.9" y1="266.3" x2="470.0" y2="209.6" stroke="#f1c748" stroke-opacity="0.055" stroke-width="1.5"/>
<line x1="478.9" y1="266.3" x2="413.9" y2="249.5" stroke="#e1c85d" stroke-opacity="0.055" stroke-width="1.5"/>
<line x1="478.9" y1="266.3" x2="503.2" y2="221.9" stroke="#ffdd15" stroke-opacity="0.085" stroke-width="1.5"/>
<line x1="478.9" y1="266.3" x2="509.3" y2="205.2" stroke="#f1c748" stroke-opacity="0.055" stroke-width="1.5"/>
<line x1="530.7" y1="256.2" x2="522.0" y2="273.5" stroke="#ffdd15" stroke-opacity="0.085" stroke-width="1.5"/>
<line x1="530.7" y1="256.2" x2="510.3" y2="241.5" stroke="#e9281f" stroke-opacity="0.085" stroke-width="1.5"/>
<line x1="530.7" y1="256.2" x2="478.9" y2="266.3" stroke="#ffdd15" stroke-opacity="0.085" stroke-width="1.5"/>
<line x1="530.7" y1="256.2" x2="558.0" y2="202.5" stroke="#ec984e" stroke-opacity="0.055" stroke-width="1.5"/>
<line x1="530.7" y1="256.2" x2="467.6" y2="167.7" stroke="#b79ebf" stroke-opacity="0.055" stroke-width="1.9"/>
<line x1="530.7" y1="256.2" x2="440.7" y2="282.6" stroke="#9fc7ee" stroke-opacity="0.055" stroke-width="1.9"/>
<line x1="522.0" y1="273.5" x2="499.0" y2="294.0" stroke="#ffdd15" stroke-opacity="0.085" stroke-width="1.5"/>
<line x1="522.0" y1="273.5" x2="515.7" y2="304.7" stroke="#ffdd15" stroke-opacity="0.085" stroke-width="1.5"/>
<line x1="522.0" y1="273.5" x2="471.9" y2="315.3" stroke="#e9281f" stroke-opacity="0.055" stroke-width="1.5"/>
<line x1="522.0" y1="273.5" x2="478.9" y2="266.3" stroke="#ffdd15" stroke-opacity="0.085" stroke-width="1.5"/>
<line x1="522.0" y1="273.5" x2="455.5" y2="204.8" stroke="#b79ebf" stroke-opacity="0.055" stroke-width="1.9"/>
<line x1="522.0" y1="273.5" x2="490.1" y2="226.4" stroke="#e9281f" stroke-opacity="0.055" stroke-width="1.5"/>
<line x1="487.4" y1="295.0" x2="499.0" y2="294.0" stroke="#ffdd15" stroke-opacity="0.085" stroke-width="1.5"/>
<line x1="487.4" y1="295.0" x2="471.9" y2="315.3" stroke="#e1c85d" stroke-opacity="0.085" stroke-width="1.5"/>
<line x1="487.4" y1="295.0" x2="438.3" y2="325.6" stroke="#e1c85d" stroke-opacity="0.055" stroke-width="1.5"/>
<line x1="487.4" y1="295.0" x2="467.2" y2="224.6" stroke="#d3ad96" stroke-opacity="0.055" stroke-width="1.5"/>
<line x1="487.4" y1="295.0" x2="430.0" y2="177.0" stroke="#b79ebf" stroke-opacity="0.034" stroke-width="1.9"/>
<line x1="499.0" y1="294.0" x2="515.7" y2="304.7" stroke="#ffdd15" stroke-opacity="0.085" stroke-width="1.5"/>
<line x1="499.0" y1="294.0" x2="448.4" y2="293.5" stroke="#b3bb9c" stroke-opacity="0.085" stroke-width="1.5"/>
<line x1="499.0" y1="294.0" x2="493.5" y2="350.5" stroke="#ffdd15" stroke-opacity="0.055" stroke-width="1.5"/>
<line x1="499.0" y1="294.0" x2="495.6" y2="252.5" stroke="#ffdd15" stroke-opacity="0.085" stroke-width="1.5"/>
<line x1="499.0" y1="294.0" x2="447.5" y2="247.0" stroke="#e1c85d" stroke-opacity="0.055" stroke-width="1.5"/>
<line x1="515.7" y1="304.7" x2="505.0" y2="324.0" stroke="#ffdd15" stroke-opacity="0.085" stroke-width="1.5"/>
<line x1="515.7" y1="304.7" x2="487.4" y2="295.0" stroke="#ffdd15" stroke-opacity="0.085" stroke-width="1.5"/>
<line x1="515.7" y1="304.7" x2="448.4" y2="293.5" stroke="#8dbdb3" stroke-opacity="0.055" stroke-width="1.5"/>
<line x1="515.7" y1="304.7" x2="479.6" y2="237.4" stroke="#ffdd15" stroke-opacity="0.055" stroke-width="1.5"/>
<line x1="515.7" y1="304.7" x2="412.8" y2="186.5" stroke="#e1c85d" stroke-opacity="0.034" stroke-width="1.9"/>
<line x1="515.7" y1="304.7" x2="439.0" y2="195.0" stroke="#bdafa6" stroke-opacity="0.034" stroke-width="1.9"/>
<line x1="545.6" y1="311.0" x2="570.0" y2="326.8" stroke="#ffdd15" stroke-opacity="0.085" stroke-width="1.5"/>
<line x1="545.6" y1="311.0" x2="515.7" y2="304.7" stroke="#ffdd15" stroke-opacity="0.085" stroke-width="1.5"/>
<line x1="545.6" y1="311.0" x2="505.0" y2="324.0" stroke="#ffdd15" stroke-opacity="0.085" stroke-width="1.5"/>
<line x1="545.6" y1="311.0" x2="493.6" y2="245.0" stroke="#ffdd15" stroke-opacity="0.055" stroke-width="1.5"/>
<line x1="545.6" y1="311.0" x2="469.8" y2="338.0" stroke="#ffdd15" stroke-opacity="0.055" stroke-width="1.5"/>
<line x1="545.6" y1="311.0" x2="502.9" y2="190.0" stroke="#f7941f" stroke-opacity="0.034" stroke-width="1.9"/>
<line x1="545.6" y1="311.0" x2="503.2" y2="221.9" stroke="#ffdd15" stroke-opacity="0.055" stroke-width="1.9"/>
<line x1="570.0" y1="326.8" x2="557.0" y2="360.1" stroke="#ffdd15" stroke-opacity="0.085" stroke-width="1.5"/>
<line x1="570.0" y1="326.8" x2="516.0" y2="343.5" stroke="#ffdd15" stroke-opacity="0.055" stroke-width="1.5"/>
<line x1="570.0" y1="326.8" x2="486.0" y2="322.0" stroke="#ffdd15" stroke-opacity="0.055" stroke-width="1.5"/>
<line x1="570.0" y1="326.8" x2="567.0" y2="233.3" stroke="#2f6fc0" stroke-opacity="0.055" stroke-width="1.9"/>
<line x1="570.0" y1="326.8" x2="447.5" y2="247.0" stroke="#a5a5a8" stroke-opacity="0.034" stroke-width="1.9"/>
<line x1="570.0" y1="326.8" x2="426.0" y2="212.0" stroke="#e79cc8" stroke-opacity="0.034" stroke-width="1.9"/>
<line x1="486.0" y1="322.0" x2="505.0" y2="324.0" stroke="#ffdd15" stroke-opacity="0.085" stroke-width="1.5"/>
<line x1="486.0" y1="322.0" x2="469.8" y2="338.0" stroke="#e1c85d" stroke-opacity="0.085" stroke-width="1.5"/>
<line x1="486.0" y1="322.0" x2="426.5" y2="364.5" stroke="#e1c85d" stroke-opacity="0.055" stroke-width="1.5"/>
<line x1="486.0" y1="322.0" x2="495.6" y2="252.5" stroke="#e9281f" stroke-opacity="0.055" stroke-width="1.5"/>
<line x1="486.0" y1="322.0" x2="432.6" y2="273.6" stroke="#e1c85d" stroke-opacity="0.055" stroke-width="1.5"/>
<line x1="486.0" y1="322.0" x2="456.2" y2="221.3" stroke="#e1c85d" stroke-opacity="0.055" stroke-width="1.9"/>
<line x1="505.0" y1="324.0" x2="516.0" y2="343.5" stroke="#ffdd15" stroke-opacity="0.085" stroke-width="1.5"/>
<line x1="505.0" y1="324.0" x2="449.3" y2="317.7" stroke="#b3bb9c" stroke-opacity="0.055" stroke-width="1.5"/>
<line x1="505.0" y1="324.0" x2="438.3" y2="325.6" stroke="#e1c85d" stroke-opacity="0.055" stroke-width="1.5"/>
<line x1="505.0" y1="324.0" x2="395.3" y2="223.7" stroke="#d7aea5" stroke-opacity="0.034" stroke-width="1.9"/>
<line x1="505.0" y1="324.0" x2="410.4" y2="170.0" stroke="#d7aea5" stroke-opacity="0.034" stroke-width="1.9"/>
<line x1="516.0" y1="343.5" x2="493.5" y2="350.5" stroke="#ffdd15" stroke-opacity="0.085" stroke-width="1.5"/>
<line x1="516.0" y1="343.5" x2="486.0" y2="322.0" stroke="#ffdd15" stroke-opacity="0.085" stroke-width="1.5"/>
<line x1="516.0" y1="343.5" x2="561.3" y2="263.5" stroke="#ffdd15" stroke-opacity="0.055" stroke-width="1.9"/>
<line x1="516.0" y1="343.5" x2="456.2" y2="221.3" stroke="#ffdd15" stroke-opacity="0.034" stroke-width="1.9"/>
<line x1="516.0" y1="343.5" x2="479.6" y2="237.4" stroke="#ffdd15" stroke-opacity="0.034" stroke-width="1.9"/>
<line x1="469.8" y1="338.0" x2="478.3" y2="350.0" stroke="#e1c85d" stroke-opacity="0.085" stroke-width="1.5"/>
<line x1="469.8" y1="338.0" x2="483.5" y2="403.8" stroke="#e1c85d" stroke-opacity="0.055" stroke-width="1.5"/>
<line x1="469.8" y1="338.0" x2="412.8" y2="272.3" stroke="#e1c85d" stroke-opacity="0.055" stroke-width="1.5"/>
<line x1="469.8" y1="338.0" x2="439.0" y2="195.0" stroke="#e1c85d" stroke-opacity="0.034" stroke-width="1.9"/>
<line x1="469.8" y1="338.0" x2="455.5" y2="204.8" stroke="#bdafa6" stroke-opacity="0.034" stroke-width="1.9"/>
<line x1="478.3" y1="350.0" x2="493.5" y2="350.5" stroke="#ffdd15" stroke-opacity="0.085" stroke-width="1.5"/>
<line x1="478.3" y1="350.0" x2="477.0" y2="369.5" stroke="#e1c85d" stroke-opacity="0.085" stroke-width="1.5"/>
<line x1="478.3" y1="350.0" x2="483.5" y2="403.8" stroke="#ffdd15" stroke-opacity="0.085" stroke-width="1.5"/>
<line x1="478.3" y1="350.0" x2="487.4" y2="295.0" stroke="#ffdd15" stroke-opacity="0.055" stroke-width="1.5"/>
<line x1="478.3" y1="350.0" x2="445.7" y2="160.5" stroke="#e1c85d" stroke-opacity="0.034" stroke-width="1.9"/>
<line x1="478.3" y1="350.0" x2="447.5" y2="247.0" stroke="#bdb298" stroke-opacity="0.055" stroke-width="1.9"/>
<line x1="493.5" y1="350.5" x2="477.0" y2="369.5" stroke="#ffdd15" stroke-opacity="0.085" stroke-width="1.5"/>
<line x1="493.5" y1="350.5" x2="448.4" y2="293.5" stroke="#e1c85d" stroke-opacity="0.055" stroke-width="1.5"/>
<line x1="493.5" y1="350.5" x2="530.7" y2="256.2" stroke="#ffdd15" stroke-opacity="0.055" stroke-width="1.9"/>
<line x1="493.5" y1="350.5" x2="440.7" y2="282.6" stroke="#e1c85d" stroke-opacity="0.055" stroke-width="1.5"/>
<line x1="493.5" y1="350.5" x2="426.0" y2="212.0" stroke="#d7aea5" stroke-opacity="0.034" stroke-width="1.9"/>
<line x1="477.0" y1="369.5" x2="469.8" y2="338.0" stroke="#e1c85d" stroke-opacity="0.085" stroke-width="1.5"/>
<line x1="477.0" y1="369.5" x2="478.9" y2="266.3" stroke="#e1c85d" stroke-opacity="0.055" stroke-width="1.9"/>
<line x1="477.0" y1="369.5" x2="444.0" y2="354.3" stroke="#e1c85d" stroke-opacity="0.085" stroke-width="1.5"/>
<line x1="477.0" y1="369.5" x2="412.8" y2="272.3" stroke="#bdb298" stroke-opacity="0.034" stroke-width="1.9"/>
<line x1="477.0" y1="369.5" x2="426.0" y2="242.2" stroke="#e1c85d" stroke-opacity="0.034" stroke-width="1.9"/>
<line x1="513.5" y1="385.3" x2="483.5" y2="403.8" stroke="#ffdd15" stroke-opacity="0.085" stroke-width="1.5"/>
<line x1="513.5" y1="385.3" x2="477.0" y2="369.5" stroke="#ffdd15" stroke-opacity="0.085" stroke-width="1.5"/>
<line x1="513.5" y1="385.3" x2="493.5" y2="350.5" stroke="#ffdd15" stroke-opacity="0.085" stroke-width="1.5"/>
<line x1="513.5" y1="385.3" x2="471.9" y2="315.3" stroke="#e9281f" stroke-opacity="0.055" stroke-width="1.5"/>
<line x1="513.5" y1="385.3" x2="569.7" y2="407.0" stroke="#ffdd15" stroke-opacity="0.055" stroke-width="1.5"/>
<line x1="513.5" y1="385.3" x2="435.0" y2="225.0" stroke="#c3b969" stroke-opacity="0.034" stroke-width="1.9"/>
<line x1="513.5" y1="385.3" x2="490.1" y2="275.5" stroke="#e9281f" stroke-opacity="0.034" stroke-width="1.9"/>
<line x1="483.5" y1="403.8" x2="477.0" y2="369.5" stroke="#ffdd15" stroke-opacity="0.085" stroke-width="1.5"/>
<line x1="483.5" y1="403.8" x2="471.9" y2="315.3" stroke="#d88061" stroke-opacity="0.055" stroke-width="1.5"/>
<line x1="483.5" y1="403.8" x2="570.0" y2="326.8" stroke="#ffdd15" stroke-opacity="0.034" stroke-width="1.9"/>
<line x1="483.5" y1="403.8" x2="426.0" y2="242.2" stroke="#e1c85d" stroke-opacity="0.034" stroke-width="1.9"/>
<line x1="483.5" y1="403.8" x2="445.7" y2="160.5" stroke="#e1c85d" stroke-opacity="0.034" stroke-width="1.9"/>
<line x1="557.0" y1="360.1" x2="516.0" y2="343.5" stroke="#ffdd15" stroke-opacity="0.085" stroke-width="1.5"/>
<line x1="557.0" y1="360.1" x2="569.7" y2="407.0" stroke="#ffdd15" stroke-opacity="0.085" stroke-width="1.5"/>
<line x1="557.0" y1="360.1" x2="522.0" y2="273.5" stroke="#ffdd15" stroke-opacity="0.055" stroke-width="1.9"/>
<line x1="557.0" y1="360.1" x2="478.3" y2="350.0" stroke="#ffdd15" stroke-opacity="0.055" stroke-width="1.5"/>
<line x1="557.0" y1="360.1" x2="455.5" y2="204.8" stroke="#ffdd15" stroke-opacity="0.034" stroke-width="1.9"/>
<line x1="557.0" y1="360.1" x2="430.0" y2="177.0" stroke="#ffdd15" stroke-opacity="0.034" stroke-width="1.9"/>
<line x1="569.7" y1="407.0" x2="570.0" y2="326.8" stroke="#ffdd15" stroke-opacity="0.055" stroke-width="1.5"/>
<line x1="569.7" y1="407.0" x2="499.0" y2="294.0" stroke="#ffdd15" stroke-opacity="0.034" stroke-width="1.9"/>
<line x1="569.7" y1="407.0" x2="547.5" y2="236.8" stroke="#ffdd15" stroke-opacity="0.034" stroke-width="1.9"/>
<line x1="569.7" y1="407.0" x2="426.0" y2="212.0" stroke="#e79cc8" stroke-opacity="0.034" stroke-width="1.9"/>
<line x1="569.7" y1="407.0" x2="509.3" y2="205.2" stroke="#f7941f" stroke-opacity="0.034" stroke-width="1.9"/>
<line x1="436" y1="182" x2="509.5" y2="156" stroke="#a879b8" stroke-opacity="0.6" stroke-width="1.4"/>
<g stroke="#c9dfeb" stroke-opacity="0.3" stroke-width="1.7">
<line x1="274.5" y1="266" x2="218.3" y2="307.5"/><line x1="274.5" y1="266" x2="240" y2="328.5"/><line x1="274.5" y1="266" x2="244" y2="348"/>
<line x1="274.5" y1="266" x2="292" y2="290"/><line x1="312" y1="297" x2="244" y2="348"/><line x1="312" y1="331" x2="244" y2="348"/>
<line x1="312" y1="297" x2="240" y2="328.5"/><line x1="218.3" y1="307.5" x2="244" y2="348"/>
</g>
<line x1="312" y1="297" x2="346" y2="320.4" stroke="#b9ccd3" stroke-opacity="0.5" stroke-width="1.4"/>
</g>
<g id="nodes">
<circle cx="363.6" cy="26.6" r="14.2" fill="#c9cac1"/>
<circle cx="417" cy="53" r="10.5" fill="#c9cac1"/>
<circle cx="461" cy="30.5" r="10" fill="#c9cac1"/>
<circle cx="450.5" cy="88" r="4.5" fill="#c9cac1"/>
<circle cx="514.4" cy="55.9" r="18.3" fill="#aa64ad"/>
<circle cx="479" cy="93" r="7" fill="#aa64ad"/>
<circle cx="516.3" cy="104.8" r="11.3" fill="#aa64ad"/>
<circle cx="467.6" cy="118.5" r="7.1" fill="#aa64ad"/>
<circle cx="539" cy="130.2" r="5" fill="#aa64ad"/>
<circle cx="491.5" cy="158.5" r="4.1" fill="#aa64ad"/>
<circle cx="509.5" cy="156" r="5.2" fill="#aa64ad"/>
<circle cx="528" cy="159" r="6.3" fill="#aa64ad"/>
<circle cx="509.3" cy="173.2" r="4.3" fill="#aa64ad"/>
<circle cx="518.7" cy="176.6" r="5" fill="#aa64ad"/>
<circle cx="412" cy="128" r="10.7" fill="#a59dcc"/>
<circle cx="448.5" cy="121" r="8.2" fill="#a59dcc"/>
<circle cx="457.3" cy="143.7" r="9.5" fill="#a59dcc"/>
<circle cx="428" cy="156.5" r="11.7" fill="#a59dcc"/>
<circle cx="445.7" cy="160.5" r="8.5" fill="#a59dcc"/>
<circle cx="477.9" cy="139" r="8.5" fill="#a59dcc"/>
<circle cx="498.4" cy="134.3" r="8.2" fill="#a59dcc"/>
<circle cx="430" cy="177" r="8" fill="#a59dcc"/>
<circle cx="439" cy="195" r="8" fill="#a59dcc"/>
<circle cx="441.3" cy="211" r="5.5" fill="#a59dcc"/>
<circle cx="467.6" cy="167.7" r="7.5" fill="#a59dcc"/>
<circle cx="465.8" cy="177.3" r="7.5" fill="#a59dcc"/>
<circle cx="490" cy="180.7" r="4.5" fill="#a59dcc"/>
<circle cx="477.9" cy="191.3" r="4.8" fill="#a59dcc"/>
<circle cx="459" cy="192.4" r="5" fill="#a59dcc"/>
<circle cx="463.7" cy="200.6" r="4.5" fill="#a59dcc"/>
<circle cx="455.5" cy="204.8" r="4.5" fill="#a59dcc"/>
<circle cx="470" cy="209.6" r="4.5" fill="#a59dcc"/>
<circle cx="456.2" cy="221.3" r="4.1" fill="#a59dcc"/>
<circle cx="333.7" cy="118.4" r="8.5" fill="#e79cc8"/>
<circle cx="319.3" cy="140.3" r="6.6" fill="#e79cc8"/>
<circle cx="348" cy="139.6" r="6.2" fill="#e79cc8"/>
<circle cx="380" cy="129" r="7.5" fill="#e79cc8"/>
<circle cx="374" cy="144.8" r="5.8" fill="#e79cc8"/>
<circle cx="402.7" cy="146" r="5.5" fill="#e79cc8"/>
<circle cx="293.7" cy="181.5" r="18.7" fill="#e79cc8"/>
<circle cx="344" cy="168.8" r="13.6" fill="#e79cc8"/>
<circle cx="363" cy="161" r="5" fill="#e79cc8"/>
<circle cx="349" cy="189" r="8" fill="#e79cc8"/>
<circle cx="325" cy="202" r="7" fill="#e79cc8"/>
<circle cx="346.6" cy="217" r="14.1" fill="#e79cc8"/>
<circle cx="387.3" cy="165" r="6.2" fill="#e79cc8"/>
<circle cx="389" cy="175" r="6.2" fill="#e79cc8"/>
<circle cx="410.4" cy="170" r="5.8" fill="#e79cc8"/>
<circle cx="370.5" cy="182.8" r="5.5" fill="#e79cc8"/>
<circle cx="412.8" cy="186.5" r="6.2" fill="#e79cc8"/>
<circle cx="424.4" cy="188" r="4" fill="#e79cc8"/>
<circle cx="403.5" cy="196.8" r="6.3" fill="#e79cc8"/>
<circle cx="386.4" cy="206.4" r="8.2" fill="#e79cc8"/>
<circle cx="402.5" cy="208" r="4.3" fill="#e79cc8"/>
<circle cx="426" cy="212" r="8" fill="#e79cc8"/>
<circle cx="374.5" cy="234.7" r="10.3" fill="#e79cc8"/>
<circle cx="395.3" cy="223.7" r="5" fill="#e79cc8"/>
<circle cx="413.5" cy="229.2" r="5.5" fill="#e79cc8"/>
<circle cx="397.8" cy="264.6" r="4.7" fill="#e79cc8"/>
<circle cx="389.6" cy="287.2" r="4.1" fill="#e79cc8"/>
<circle cx="402.2" cy="287.4" r="4" fill="#e79cc8"/>
<circle cx="389.1" cy="307.1" r="7.5" fill="#e79cc8"/>
<circle cx="352" cy="382.5" r="10.5" fill="#e79cc8"/>
<circle cx="241.8" cy="239.5" r="14.7" fill="#0aa5e9"/>
<circle cx="316.5" cy="239" r="7.5" fill="#0aa5e9"/>
<circle cx="339" cy="250" r="4" fill="#0aa5e9"/>
<circle cx="356.5" cy="245.5" r="6.4" fill="#0aa5e9"/>
<circle cx="299" cy="259.5" r="5.8" fill="#0aa5e9"/>
<circle cx="274.5" cy="266" r="6" fill="#0aa5e9"/>
<circle cx="322" cy="269.5" r="6.3" fill="#0aa5e9"/>
<circle cx="374.5" cy="256.4" r="6.6" fill="#0aa5e9"/>
<circle cx="292" cy="290" r="6.3" fill="#0aa5e9"/>
<circle cx="312" cy="297" r="8.5" fill="#0aa5e9"/>
<circle cx="363" cy="299.8" r="8.5" fill="#0aa5e9"/>
<circle cx="312" cy="331" r="13" fill="#0aa5e9"/>
<circle cx="218.3" cy="307.5" r="7" fill="#6aade3"/>
<circle cx="240" cy="328.5" r="6.4" fill="#6aade3"/>
<circle cx="244" cy="348" r="9" fill="#6aade3"/>
<circle cx="357.5" cy="277.8" r="5.8" fill="#b4b632"/>
<circle cx="390.7" cy="250.9" r="4.7" fill="#b4b632"/>
<circle cx="435" cy="225" r="5.8" fill="#b4b632"/>
<circle cx="346" cy="320.4" r="5.5" fill="#7ab83d"/>
<circle cx="348" cy="351.8" r="4.5" fill="#7ab83d"/>
<circle cx="413.9" cy="249.5" r="4.7" fill="#7ab83d"/>
<circle cx="441.8" cy="264.2" r="8.2" fill="#7ab83d"/>
<circle cx="385" cy="328.4" r="4.7" fill="#7ab83d"/>
<circle cx="426.5" cy="364.5" r="7.5" fill="#7ab83d"/>
<circle cx="426" cy="242.2" r="4.4" fill="#a5a5a8"/>
<circle cx="447.5" cy="247" r="4.3" fill="#a5a5a8"/>
<circle cx="419.6" cy="261.2" r="5.8" fill="#a5a5a8"/>
<circle cx="412.8" cy="272.3" r="4.6" fill="#a5a5a8"/>
<circle cx="426" cy="290.6" r="5.8" fill="#a5a5a8"/>
<circle cx="404.3" cy="329.2" r="6.6" fill="#a5a5a8"/>
<circle cx="371" cy="352.5" r="6.5" fill="#a5a5a8"/>
<circle cx="432.6" cy="273.6" r="4.8" fill="#9fc7ee"/>
<circle cx="440.7" cy="282.6" r="4.5" fill="#9fc7ee"/>
<circle cx="448.4" cy="293.5" r="4.5" fill="#8dbdb3"/>
<circle cx="449.3" cy="317.7" r="5" fill="#8dbdb3"/>
<circle cx="438.3" cy="325.6" r="6" fill="#8dbdb3"/>
<circle cx="422.8" cy="341.8" r="6" fill="#8dbdb3"/>
<circle cx="444" cy="354.3" r="5" fill="#8dbdb3"/>
<circle cx="412.3" cy="385.8" r="11" fill="#8dbdb3"/>
<circle cx="432" cy="387" r="8" fill="#8dbdb3"/>
<circle cx="478.8" cy="213.5" r="4.7" fill="#e9281f"/>
<circle cx="490.1" cy="226.4" r="5" fill="#e9281f"/>
<circle cx="459.2" cy="240.2" r="4.4" fill="#e9281f"/>
<circle cx="479.6" cy="237.4" r="4.4" fill="#e9281f"/>
<circle cx="510.3" cy="241.5" r="6" fill="#e9281f"/>
<circle cx="493.6" cy="245" r="4.3" fill="#e9281f"/>
<circle cx="495.6" cy="252.5" r="6.3" fill="#e9281f"/>
<circle cx="476.4" cy="253.9" r="4.5" fill="#e9281f"/>
<circle cx="460.2" cy="281" r="8" fill="#e9281f"/>
<circle cx="490.1" cy="275.5" r="8" fill="#e9281f"/>
<circle cx="471.9" cy="315.3" r="6" fill="#e9281f"/>
<circle cx="619.8" cy="276.3" r="13.3" fill="#e9281f"/>
<circle cx="467.2" cy="224.6" r="6.2" fill="#dd98a2"/>
<circle cx="503.2" cy="221.9" r="5.2" fill="#dd98a2"/>
<circle cx="527.2" cy="219.5" r="8.5" fill="#dd98a2"/>
<circle cx="587.8" cy="236.8" r="7.5" fill="#dd98a2"/>
<circle cx="561.3" cy="263.5" r="10" fill="#dd98a2"/>
<circle cx="547.5" cy="236.8" r="5" fill="#2f6fc0"/>
<circle cx="567" cy="233.3" r="8.5" fill="#2f6fc0"/>
<circle cx="575.7" cy="92.5" r="15.7" fill="#f7941f"/>
<circle cx="612" cy="135" r="11" fill="#f7941f"/>
<circle cx="654" cy="131" r="11.5" fill="#f7941f"/>
<circle cx="569" cy="145.5" r="10" fill="#f7941f"/>
<circle cx="560.5" cy="163" r="4.5" fill="#f7941f"/>
<circle cx="578.5" cy="170.5" r="4.5" fill="#f7941f"/>
<circle cx="545.5" cy="171" r="5" fill="#f7941f"/>
<circle cx="536.3" cy="182" r="3.5" fill="#f7941f"/>
<circle cx="502.9" cy="190" r="6.6" fill="#f7941f"/>
<circle cx="509.3" cy="205.2" r="5.5" fill="#f7941f"/>
<circle cx="532" cy="203.4" r="7.1" fill="#f7941f"/>
<circle cx="558" cy="202.5" r="6.5" fill="#f7941f"/>
<circle cx="611" cy="194.5" r="10" fill="#f7941f"/>
<circle cx="478.9" cy="266.3" r="5.2" fill="#ffdd15"/>
<circle cx="530.7" cy="256.2" r="6.2" fill="#ffdd15"/>
<circle cx="522" cy="273.5" r="7.5" fill="#ffdd15"/>
<circle cx="487.4" cy="295" r="5.8" fill="#ffdd15"/>
<circle cx="499" cy="294" r="5.8" fill="#ffdd15"/>
<circle cx="515.7" cy="304.7" r="3.9" fill="#ffdd15"/>
<circle cx="545.6" cy="311" r="12" fill="#ffdd15"/>
<circle cx="570" cy="326.8" r="10.5" fill="#ffdd15"/>
<circle cx="486" cy="322" r="4.1" fill="#ffdd15"/>
<circle cx="505" cy="324" r="8" fill="#ffdd15"/>
<circle cx="516" cy="343.5" r="13" fill="#ffdd15"/>
<circle cx="469.8" cy="338" r="4.5" fill="#ffdd15"/>
<circle cx="478.3" cy="350" r="4.5" fill="#ffdd15"/>
<circle cx="493.5" cy="350.5" r="4.5" fill="#ffdd15"/>
<circle cx="477" cy="369.5" r="7" fill="#ffdd15"/>
<circle cx="513.5" cy="385.3" r="13.2" fill="#ffdd15"/>
<circle cx="483.5" cy="403.8" r="17.5" fill="#ffdd15"/>
<circle cx="557" cy="360.1" r="13.4" fill="#ffdd15"/>
<circle cx="569.7" cy="407" r="15.5" fill="#ffdd15"/>
</g>
<g id="labels" opacity="0.94">
<text x="345.8" y="29.4" font-size="8" textLength="36.9" lengthAdjust="spacingAndGlyphs">Depression</text>
<text x="483.3" y="54.5" font-size="11.2" textLength="60.7" lengthAdjust="spacingAndGlyphs">Hypertension</text>
<text x="499" y="66.2" font-size="11.2" textLength="29.6" lengthAdjust="spacingAndGlyphs">benign</text>
<text x="554.7" y="90.9" font-size="9.8" textLength="42.8" lengthAdjust="spacingAndGlyphs">High blood</text>
<text x="554.2" y="101.7" font-size="9.8" textLength="43.6" lengthAdjust="spacingAndGlyphs">cholesterol</text>
<text x="257.2" y="179.5" font-size="11.2" textLength="72.9" lengthAdjust="spacingAndGlyphs">Routine medical</text>
<text x="265.7" y="191.5" font-size="11.2" textLength="56.0" lengthAdjust="spacingAndGlyphs">examination</text>
<text x="317.7" y="171.2" font-size="7.7" textLength="52.7" lengthAdjust="spacingAndGlyphs">Malaise  fatigue</text>
<text x="319.9" y="219.4" font-size="7.9" textLength="52.4" lengthAdjust="spacingAndGlyphs">Abdominal pain</text>
<text x="215.7" y="237" font-size="8" textLength="52.2" lengthAdjust="spacingAndGlyphs">Gynecological</text>
<text x="218.5" y="247.5" font-size="8" textLength="46.4" lengthAdjust="spacingAndGlyphs">examination</text>
<text x="602.5" y="279.6" font-size="7.8" textLength="34.6" lengthAdjust="spacingAndGlyphs">Heartburn</text>
<text x="494.6" y="388.9" font-size="7.8" textLength="37.0" lengthAdjust="spacingAndGlyphs">Sore throat</text>
<text x="445.8" y="401.6" font-size="11" textLength="75.5" lengthAdjust="spacingAndGlyphs">Upper respiratory</text>
<text x="454" y="412.9" font-size="11" textLength="58.3" lengthAdjust="spacingAndGlyphs">tract infection</text>
<text x="537.6" y="358.7" font-size="7.8" textLength="38.2" lengthAdjust="spacingAndGlyphs">Acute sinus</text>
<text x="534.3" y="367.7" font-size="7.8" textLength="45.6" lengthAdjust="spacingAndGlyphs">inflammation</text>
<text x="556.9" y="409.5" font-size="8.6" textLength="26.6" lengthAdjust="spacingAndGlyphs">Allergy</text>
</g>
<!-- magnifier -->
<g fill="none" stroke="#7d7d7d">
<circle cx="713" cy="451.8" r="4.6" stroke-width="1.4"/>
<line x1="716.6" y1="455.2" x2="722.6" y2="460.6" stroke-width="2.4" stroke-linecap="round"/>
</g>
</svg>

<!-- GE logo -->
<svg class="abs" style="left:3px;top:2px" width="48" height="48" viewBox="0 0 48 48">
<circle cx="23.1" cy="22.9" r="21.2" fill="#3672bf"/>
<circle cx="23.1" cy="22.9" r="19.9" fill="none" stroke="#fff" stroke-opacity="0.45" stroke-width="0.7"/>
<circle cx="23.1" cy="22.9" r="17.4" fill="none" stroke="#fff" stroke-opacity="0.75" stroke-width="0.8"/>
<circle cx="23.1" cy="22.9" r="17.2" fill="none" stroke="#fff" stroke-width="2.1" stroke-linecap="round" stroke-dasharray="8 19.02" stroke-dashoffset="3" transform="rotate(-100 23.1 22.9)"/>
<text x="22.6" y="31" font-size="23" text-anchor="middle" style="fill:#fff;font-family:'Liberation Serif',serif;font-style:italic" letter-spacing="-2.4">GE</text>
</svg>
<div class="abs" id="tag" style="left:52px;top:17px;font-size:12.4px;line-height:16px;color:#6f97cb;letter-spacing:-0.25px">imagination at work</div>
<div class="abs" id="hm" style="right:3.3px;top:16px;font-size:13.3px;line-height:16px;letter-spacing:-0.2px;-webkit-text-stroke:0.35px"><span style="color:#1fb3cd;-webkit-text-stroke-color:#1fb3cd">healthy</span><span style="color:#525fa8;-webkit-text-stroke-color:#525fa8">magination</span></div>

<div class="abs h" style="left:6px;top:82.6px">Layout</div>
<div class="abs h" style="left:89px;top:82.6px">Gender</div>

<svg class="abs" style="left:0;top:100px" width="160" height="40" viewBox="0 100 160 40">
<!-- network icon -->
<g stroke="#303030" stroke-width="1.6" fill="#303030" stroke-linecap="round">
<line x1="10.6" y1="109" x2="16.7" y2="116.5"/><line x1="10.4" y1="124.2" x2="16.7" y2="116.5"/><line x1="16.7" y1="116.5" x2="28.7" y2="116.5"/>
<circle cx="10.6" cy="109" r="1.6"/><circle cx="10.4" cy="124.2" r="1.6"/><circle cx="28.7" cy="116.5" r="1.6"/>
</g>
<!-- circle layout icon -->
<circle cx="52.9" cy="116.5" r="8.4" fill="none" stroke="#e9e9e9" stroke-width="3.2" stroke-dasharray="5.6 1"/>
<!-- female -->
<g fill="none" stroke="#a0629e" stroke-width="1.7">
<circle cx="100.4" cy="116.6" r="8.6"/>
<line x1="100.4" y1="125.2" x2="100.4" y2="135.6"/><line x1="95" y1="129.9" x2="105.8" y2="129.9"/>
</g>
<!-- male -->
<g fill="none" stroke="#eaeaea" stroke-width="1.8">
<circle cx="130.2" cy="116.2" r="8.6"/>
<line x1="136.4" y1="110.2" x2="145" y2="103.2"/><polyline points="139,102.6 145.6,102.6 145.6,109"/>
</g>
</svg>

<div class="abs h" style="left:6px;top:146px">Search</div>
<div class="abs" style="left:5.5px;top:165px;width:145px;height:14.8px;border:1px solid #a0a0a0;border-radius:8.5px;background:#fff"></div>
<div class="abs h" style="left:6.5px;top:198.5px">Categories</div>
<div class="lg" style="top:217.3px"><span class="sw" style="background:#2b62ae"></span><span class="lt">Blood Diseases</span></div>
<div class="lg" style="top:230.1px"><span class="sw" style="background:#9b5fb0"></span><span class="lt">Circulatory System</span></div>
<div class="lg" style="top:242.9px"><span class="sw" style="background:#e8221b"></span><span class="lt">Digestive System</span></div>
<div class="lg" style="top:255.7px"><span class="sw" style="background:#00a1e9"></span><span class="lt">Genitourinary System</span></div>
<div class="lg" style="top:268.5px"><span class="sw" style="background:#f7931e"></span><span class="lt">Hormone Nutrition Immunity</span></div>
<div class="lg" style="top:281.3px"><span class="sw" style="background:#6ab43e"></span><span class="lt">Infections</span></div>
<div class="lg" style="top:294.1px"><span class="sw" style="background:#a5c8ef"></span><span class="lt">Injury and Poisoning</span></div>
<div class="lg" style="top:306.9px"><span class="sw" style="background:#c8c8c8"></span><span class="lt">Mental Health</span></div>
<div class="lg" style="top:319.7px"><span class="sw" style="background:#a59bca"></span><span class="lt">Musculoskeletal System</span></div>
<div class="lg" style="top:332.5px"><span class="sw" style="background:#de8b92"></span><span class="lt">Nervous System</span></div>
<div class="lg" style="top:345.3px"><span class="sw" style="background:#4b9fe0"></span><span class="lt">Pregnancy  Early Development</span></div>
<div class="lg" style="top:358.1px"><span class="sw" style="background:#ffde00"></span><span class="lt">Respiratory System</span></div>
<div class="lg" style="top:370.9px"><span class="sw" style="background:#8fbfad"></span><span class="lt">Sensory Organs</span></div>
<div class="lg" style="top:383.7px"><span class="sw" style="background:#9b9b9b"></span><span class="lt">Skin Conditions</span></div>
<div class="lg" style="top:396.5px"><span class="sw" style="background:#b5bb2e"></span><span class="lt">Tumors</span></div>
<div class="lg" style="top:409.3px"><span class="sw" style="background:#e8a1cb"></span><span class="lt">Unclassified</span></div>
<div class="abs" style="left:6px;top:439.6px;font-size:9px;line-height:12px;color:#3d6fb6;font-weight:bold;transform:scaleX(0.85);transform-origin:0 0">Source: GE's MQIC Database</div>
<div class="abs" style="left:6px;top:451.5px;font-size:8.6px;line-height:12px;color:#8a8a8a">More Info</div>
<div class="abs" style="left:45.1px;top:452.8px;width:9px;height:9px;border-radius:50%;background:#cbcbcb;color:#fff;font-size:7px;line-height:9px;text-align:center;font-weight:bold">?</div>
</body></html>
